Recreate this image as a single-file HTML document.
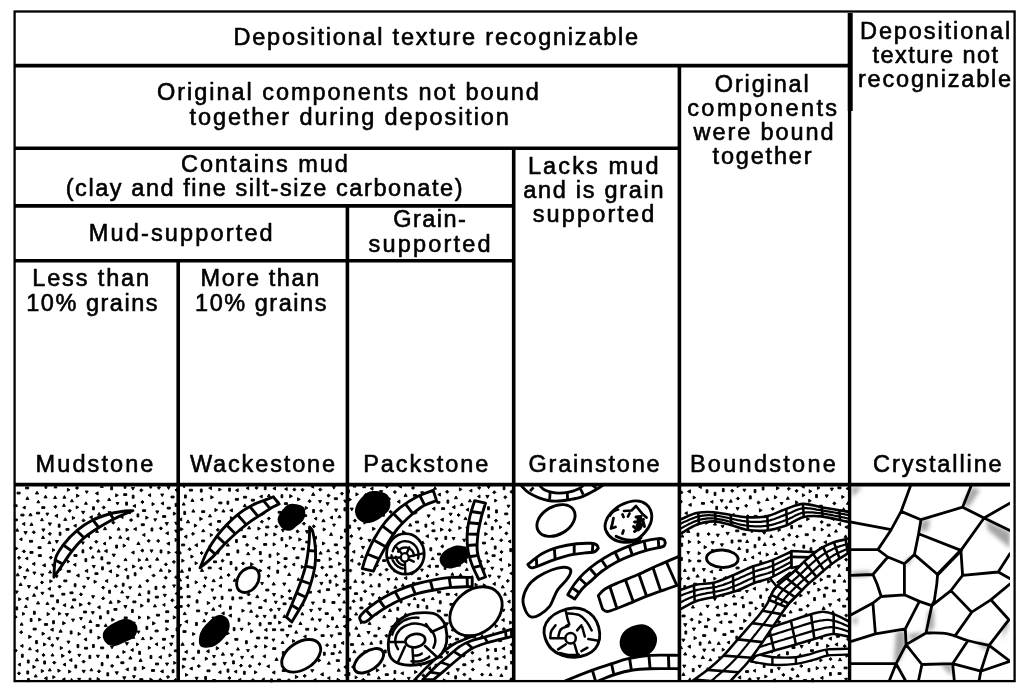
<!DOCTYPE html>
<html><head><meta charset="utf-8"><title>Dunham classification</title>
<style>
html,body{margin:0;padding:0;background:#fff;}
body{width:1024px;height:696px;overflow:hidden;}
svg{display:block;will-change:transform;}
svg text{font-family:"Liberation Sans",sans-serif;font-size:23.5px;fill:#000;stroke:#000;stroke-width:0.6px;stroke-linejoin:round;}
.g line,.g rect{stroke:#000;}
</style></head><body>
<svg width="1024" height="696" viewBox="0 0 1024 696">
<rect width="1024" height="696" fill="#fff"/>
<g id="panels">
<path d="M35.5 650.8L38.0 649.4L38.0 652.3ZM36.9 658.1L38.5 660.9L35.3 660.9ZM27.36 659.97h1.8v3.1h-1.8ZM43.5 653.45l1.6 1.6l-1.6 1.6l-1.6 -1.6ZM52.5 653.5L54.0 656.0L51.0 656.0ZM35.6 666.9L32.9 668.4L32.9 665.3ZM26.85 670.94h1.8v3.1h-1.8ZM46.2 644.4L43.5 646.0L43.5 642.9ZM43.70 660.96h1.8v3.1h-1.8ZM44.9 633.7L42.1 635.3L42.1 632.1ZM52.4 643.72l1.6 1.6l-1.6 1.6l-1.6 -1.6ZM17.9 664.6L20.4 663.1L20.4 666.1ZM35.61 640.58h1.8v3.1h-1.8ZM21.42 654.22h1.8v3.1h-1.8ZM54.3 661.01l1.6 1.6l-1.6 1.6l-1.6 -1.6ZM47.3 638.4L50.1 636.7L50.1 640.0ZM44.0 671.0L41.3 672.6L41.3 669.5ZM64.4 655.8L61.6 657.4L61.6 654.2ZM49.8 668.4L51.3 670.9L48.3 670.9ZM20.3 645.9L23.0 644.4L23.0 647.4ZM35.7 674.4L37.2 677.0L34.2 677.0ZM31.6 636.8L28.7 638.4L28.7 635.2ZM60.6 670.7L57.9 672.2L57.9 669.1ZM62.9 664.6L65.5 663.1L65.5 666.1ZM44.3 678.3L47.1 676.7L47.1 679.9ZM15.7 648.98l1.6 1.6l-1.6 1.6l-1.6 -1.6ZM62.3 679.3L65.0 677.8L65.0 680.8ZM29.9 647.3L31.4 649.8L28.5 649.8ZM19.0 671.76l1.6 1.6l-1.6 1.6l-1.6 -1.6ZM57.6 640.3L56.1 637.7L59.1 637.7ZM33.11 628.17h3.1v1.8h-3.1ZM50.4 629.7L53.2 628.1L53.2 631.3ZM60.6 629.5L62.2 632.2L59.0 632.2ZM44.48 623.56h3.1v1.8h-3.1ZM69.5 650.24l1.6 1.6l-1.6 1.6l-1.6 -1.6ZM41.3 619.6L38.7 621.1L38.7 618.1ZM27.54 678.54h1.8v3.1h-1.8ZM30.22 618.49h1.8v3.1h-1.8ZM52.62 620.67h1.8v3.1h-1.8ZM71.2 671.6L68.6 673.1L68.6 670.1ZM21.2 630.61l1.6 1.6l-1.6 1.6l-1.6 -1.6ZM62.9 648.0L60.3 649.5L60.3 646.5ZM61.1 613.7L58.5 615.2L58.5 612.2ZM55.3 677.1L52.8 678.6L52.8 675.7ZM69.1 660.1L71.9 658.5L71.9 661.7ZM21.6 622.6L23.1 625.2L20.1 625.2ZM71.6 678.4L73.2 681.3L70.0 681.3ZM68.5 643.8L66.9 641.1L70.0 641.1ZM33.45 611.21h1.8v3.1h-1.8ZM49.9 614.1L47.1 615.7L47.1 612.5ZM25.9 604.9L27.3 607.4L24.4 607.4ZM25.0 613.8L22.5 615.3L22.5 612.4ZM21.2 599.2L18.7 600.7L18.7 597.8ZM15.88 606.88h1.8v3.1h-1.8ZM79.2 681.0L77.6 678.3L80.7 678.3ZM47.4 601.9L48.9 604.5L45.9 604.5ZM79.3 656.9L77.8 654.3L80.8 654.3ZM65.6 623.2L62.7 624.8L62.7 621.5ZM73.0 621.7L71.5 619.0L74.6 619.0ZM56.67 599.72h1.8v3.1h-1.8ZM15.6 615.39l1.6 1.6l-1.6 1.6l-1.6 -1.6ZM70.24 630.91h1.8v3.1h-1.8ZM81.0 620.2L79.5 617.6L82.4 617.6ZM66.9 616.4L65.3 613.6L68.6 613.6ZM53.4 607.03l1.6 1.6l-1.6 1.6l-1.6 -1.6ZM61.79 593.31h3.1v1.8h-3.1ZM83.45 611.11h3.1v1.8h-3.1ZM62.9 605.2L65.6 603.6L65.6 606.7ZM38.1 601.3L39.6 604.0L36.5 604.0ZM72.61 598.93h3.1v1.8h-3.1ZM74.90 664.98h1.8v3.1h-1.8ZM72.2 605.4L73.7 608.1L70.6 608.1ZM92.8 614.3L91.3 611.7L94.3 611.7ZM34.1 593.5L35.7 596.3L32.5 596.3ZM42.4 594.9L40.9 592.3L43.9 592.3ZM59.6 585.01l1.6 1.6l-1.6 1.6l-1.6 -1.6ZM97.4 607.3L100.1 605.7L100.1 608.9ZM47.8 588.8L50.4 587.2L50.4 590.3ZM89.13 678.23h1.8v3.1h-1.8ZM77.03 644.51h1.8v3.1h-1.8ZM28.9 588.3L27.4 585.6L30.5 585.6ZM83.7 673.1L82.1 670.3L85.3 670.3ZM50.39 595.01h3.1v1.8h-3.1ZM84.47 647.31h3.1v1.8h-3.1ZM83.6 659.99l1.6 1.6l-1.6 1.6l-1.6 -1.6ZM42.0 580.85l1.6 1.6l-1.6 1.6l-1.6 -1.6ZM91.4 668.3L92.8 670.8L89.9 670.8ZM69.93 591.91h3.1v1.8h-3.1ZM99.9 679.2L97.1 680.8L97.1 677.6ZM82.4 604.7L79.6 606.3L79.6 603.1ZM99.53 615.84h1.8v3.1h-1.8ZM106.86 672.78h1.8v3.1h-1.8ZM63.80 579.97h3.1v1.8h-3.1ZM80.7 633.9L78.1 635.4L78.1 632.4ZM90.4 619.8L92.0 622.5L88.9 622.5ZM88.94 655.34h1.8v3.1h-1.8ZM107.05 610.69h1.8v3.1h-1.8ZM116.8 674.6L115.2 671.8L118.4 671.8ZM82.2 627.1L84.9 625.6L84.9 628.7ZM81.0 592.77l1.6 1.6l-1.6 1.6l-1.6 -1.6ZM92.49 644.45h1.8v3.1h-1.8ZM113.91 608.51h3.1v1.8h-3.1ZM99.0 669.76l1.6 1.6l-1.6 1.6l-1.6 -1.6ZM100.58 646.99h3.1v1.8h-3.1ZM97.9 657.9L96.3 655.2L99.4 655.2ZM42.2 576.8L40.6 574.0L43.8 574.0ZM89.2 601.89l1.6 1.6l-1.6 1.6l-1.6 -1.6ZM34.4 574.7L32.8 572.0L35.9 572.0ZM110.6 600.5L112.2 603.3L109.0 603.3ZM52.4 581.2L49.8 582.7L49.8 579.8ZM112.1 664.33l1.6 1.6l-1.6 1.6l-1.6 -1.6ZM74.22 583.71h1.8v3.1h-1.8ZM76.3 575.5L79.1 573.9L79.1 577.1ZM124.3 679.6L122.7 676.8L125.9 676.8ZM108.70 590.16h1.8v3.1h-1.8ZM56.7 574.48l1.6 1.6l-1.6 1.6l-1.6 -1.6ZM83.9 639.4L86.6 637.9L86.6 640.9ZM125.4 608.4L123.8 605.6L127.0 605.6ZM27.4 568.3L29.0 571.1L25.8 571.1ZM103.2 596.79l1.6 1.6l-1.6 1.6l-1.6 -1.6ZM100.6 637.6L97.9 639.2L97.9 636.1ZM112.0 648.8L110.4 646.0L113.6 646.0ZM101.21 662.59h1.8v3.1h-1.8ZM93.1 598.4L91.6 595.7L94.6 595.7ZM50.1 570.4L51.6 573.0L48.6 573.0ZM106.0 631.5L107.5 634.2L104.4 634.2ZM89.90 629.76h1.8v3.1h-1.8ZM96.11 624.60h3.1v1.8h-3.1ZM25.4 598.7L28.1 597.2L28.1 600.3ZM120.82 661.86h3.1v1.8h-3.1ZM114.5 619.8L111.7 621.3L111.7 618.2ZM106.69 654.98h1.8v3.1h-1.8ZM84.9 570.9L87.7 569.3L87.7 572.5ZM34.6 587.8L37.3 586.3L37.3 589.4ZM42.4 565.3L45.3 563.7L45.3 566.9ZM103.2 586.01l1.6 1.6l-1.6 1.6l-1.6 -1.6ZM38.32 554.68h3.1v1.8h-3.1ZM130.4 656.2L132.0 659.0L128.8 659.0ZM50.8 555.98l1.6 1.6l-1.6 1.6l-1.6 -1.6ZM32.1 563.9L34.9 562.3L34.9 565.4ZM24.9 579.2L23.4 576.5L26.4 576.5ZM55.0 550.0L52.5 551.5L52.5 548.6ZM132.83 600.96h3.1v1.8h-3.1ZM117.7 655.1L119.2 657.7L116.2 657.7ZM117.1 637.1L118.6 639.8L115.5 639.8ZM53.3 567.0L51.7 564.2L54.9 564.2ZM143.4 605.7L140.7 607.2L140.7 604.1ZM131.47 609.40h1.8v3.1h-1.8ZM125.7 669.4L128.3 667.9L128.3 670.9ZM84.1 588.6L82.6 586.0L85.5 586.0ZM38.00 546.76h3.1v1.8h-3.1ZM105.7 623.8L107.2 626.5L104.2 626.5ZM16.7 593.6L15.2 591.0L18.2 591.0ZM120.6 601.6L117.8 603.2L117.8 600.1ZM127.6 599.1L126.0 596.4L129.2 596.4ZM130.6 650.0L133.2 648.5L133.2 651.5ZM62.1 553.31l1.6 1.6l-1.6 1.6l-1.6 -1.6ZM69.8 561.5L67.3 563.0L67.3 560.1ZM122.1 590.5L123.6 593.0L120.7 593.0ZM124.14 616.94h3.1v1.8h-3.1ZM96.8 581.8L94.1 583.3L94.1 580.2ZM115.8 584.64l1.6 1.6l-1.6 1.6l-1.6 -1.6ZM21.9 567.4L19.1 569.0L19.1 565.7ZM134.0 678.3L132.5 675.7L135.5 675.7ZM134.15 667.13h1.8v3.1h-1.8ZM130.2 589.3L128.7 586.8L131.6 586.8ZM139.6 592.8L141.1 595.4L138.1 595.4ZM114.48 626.67h1.8v3.1h-1.8ZM67.17 570.43h3.1v1.8h-3.1ZM147.40 598.92h1.8v3.1h-1.8ZM73.94 554.62h3.1v1.8h-3.1ZM60.3 567.63l1.6 1.6l-1.6 1.6l-1.6 -1.6ZM25.3 558.5L27.8 557.1L27.8 559.9ZM84.94 558.58h1.8v3.1h-1.8ZM122.32 583.14h1.8v3.1h-1.8ZM29.93 551.52h3.1v1.8h-3.1ZM124.9 634.25l1.6 1.6l-1.6 1.6l-1.6 -1.6ZM145.2 667.9L142.3 669.5L142.3 666.3ZM133.7 625.1L132.1 622.3L135.3 622.3ZM20.6 582.8L22.2 585.5L19.0 585.5ZM92.8 555.5L94.3 558.1L91.4 558.1ZM82.01 549.78h1.8v3.1h-1.8ZM49.4 540.8L51.0 543.6L47.8 543.6ZM141.0 617.5L138.5 619.0L138.5 616.0ZM29.51 540.37h3.1v1.8h-3.1ZM139.77 678.67h3.1v1.8h-3.1ZM94.90 572.75h3.1v1.8h-3.1ZM147.93 590.83h1.8v3.1h-1.8ZM93.8 568.2L92.2 565.5L95.3 565.5ZM140.6 658.6L142.2 661.4L139.0 661.4ZM125.5 652.0L122.9 653.5L122.9 650.5ZM151.46 669.58h3.1v1.8h-3.1ZM126.96 575.61h1.8v3.1h-1.8ZM105.0 580.9L107.7 579.4L107.7 582.5ZM73.2 564.7L75.9 563.2L75.9 566.3ZM43.0 535.8L44.6 538.5L41.5 538.5ZM23.9 549.85l1.6 1.6l-1.6 1.6l-1.6 -1.6ZM73.5 544.06l1.6 1.6l-1.6 1.6l-1.6 -1.6ZM64.7 546.1L62.0 547.7L62.0 544.6ZM138.5 633.6L137.0 631.0L140.0 631.0ZM145.97 626.32h1.8v3.1h-1.8ZM43.4 531.7L41.8 528.9L45.0 528.9ZM139.9 584.6L141.4 587.3L138.4 587.3ZM49.9 532.26l1.6 1.6l-1.6 1.6l-1.6 -1.6ZM152.6 679.6L149.9 681.1L149.9 678.1ZM119.2 575.5L116.6 577.0L116.6 574.0ZM122.24 625.80h3.1v1.8h-3.1ZM155.03 586.33h1.8v3.1h-1.8ZM59.17 532.19h1.8v3.1h-1.8ZM82.9 544.4L81.4 541.9L84.3 541.9ZM19.4 539.3L22.0 537.8L22.0 540.8ZM160.3 678.21l1.6 1.6l-1.6 1.6l-1.6 -1.6ZM33.8 530.65l1.6 1.6l-1.6 1.6l-1.6 -1.6ZM90.8 546.37l1.6 1.6l-1.6 1.6l-1.6 -1.6ZM155.07 630.03h3.1v1.8h-3.1ZM133.4 635.8L134.8 638.3L131.9 638.3ZM134.20 572.71h1.8v3.1h-1.8ZM155.48 663.06h3.1v1.8h-3.1ZM147.4 579.17l1.6 1.6l-1.6 1.6l-1.6 -1.6ZM17.2 528.6L18.7 531.2L15.7 531.2ZM168.6 629.2L165.9 630.7L165.9 627.6ZM58.25 524.12h1.8v3.1h-1.8ZM19.0 556.23l1.6 1.6l-1.6 1.6l-1.6 -1.6ZM142.9 637.0L144.4 639.6L141.4 639.6ZM68.17 537.17h1.8v3.1h-1.8ZM17.7 573.0L19.3 575.8L16.1 575.8ZM65.3 517.7L66.8 520.4L63.7 520.4ZM31.5 522.7L33.0 525.4L29.9 525.4ZM158.7 657.2L161.4 655.6L161.4 658.7ZM98.7 549.4L100.2 552.1L97.1 552.1ZM139.0 644.3L136.5 645.8L136.5 642.9ZM150.04 655.45h1.8v3.1h-1.8ZM103.0 543.6L105.5 542.1L105.5 545.0ZM124.3 569.6L126.9 568.1L126.9 571.1ZM138.69 651.29h1.8v3.1h-1.8ZM126.9 645.3L125.3 642.5L128.5 642.5ZM76.7 534.41l1.6 1.6l-1.6 1.6l-1.6 -1.6ZM96.3 540.12l1.6 1.6l-1.6 1.6l-1.6 -1.6ZM101.60 566.77h1.8v3.1h-1.8ZM18.1 548.5L15.2 550.1L15.2 546.9ZM150.9 647.8L148.3 649.3L148.3 646.3ZM65.94 528.47h3.1v1.8h-3.1ZM56.8 543.3L55.3 540.5L58.4 540.5ZM86.6 536.1L89.4 534.5L89.4 537.8ZM155.31 596.19h3.1v1.8h-3.1ZM155.0 644.2L157.5 642.8L157.5 645.7ZM150.2 617.7L147.5 619.3L147.5 616.1ZM154.9 604.3L156.4 606.9L153.4 606.9ZM156.45 614.26h3.1v1.8h-3.1ZM54.8 515.8L57.6 514.2L57.6 517.5ZM155.4 623.3L152.6 625.0L152.6 621.7ZM73.6 525.7L76.2 524.2L76.2 527.2ZM161.9 647.9L164.5 646.4L164.5 649.3ZM162.38 638.35h3.1v1.8h-3.1ZM108.8 571.3L111.5 569.8L111.5 572.9ZM88.6 525.9L91.4 524.3L91.4 527.5ZM112.0 537.7L109.4 539.2L109.4 536.3ZM160.4 671.4L163.2 669.8L163.2 673.0ZM49.9 525.7L48.2 522.9L51.5 522.9ZM171.7 655.3L169.0 656.9L169.0 653.8ZM168.0 675.39l1.6 1.6l-1.6 1.6l-1.6 -1.6ZM153.6 573.90l1.6 1.6l-1.6 1.6l-1.6 -1.6ZM30.5 513.0L32.1 515.8L28.9 515.8ZM100.92 556.80h1.8v3.1h-1.8ZM171.2 645.9L169.6 643.1L172.8 643.1ZM163.9 585.30l1.6 1.6l-1.6 1.6l-1.6 -1.6ZM97.0 529.9L98.5 532.4L95.6 532.4ZM81.6 528.2L83.1 530.8L80.1 530.8ZM172.6 638.2L171.1 635.5L174.2 635.5ZM107.07 562.15h3.1v1.8h-3.1ZM167.0 665.7L165.5 663.0L168.6 663.0ZM118.4 564.90l1.6 1.6l-1.6 1.6l-1.6 -1.6ZM113.8 557.0L112.1 554.1L115.4 554.1ZM104.3 551.0L107.2 549.4L107.2 552.6ZM125.5 558.0L127.0 560.6L124.0 560.6ZM135.4 566.5L132.6 568.1L132.6 564.9ZM172.16 669.63h1.8v3.1h-1.8ZM25.6 534.4L23.9 531.6L27.2 531.6ZM176.3 662.9L173.7 664.3L173.7 661.4ZM175.6 678.39l1.6 1.6l-1.6 1.6l-1.6 -1.6ZM176.07 627.85h1.8v3.1h-1.8ZM165.69 610.85h3.1v1.8h-3.1ZM22.1 523.9L24.8 522.4L24.8 525.5ZM14.32 518.99h3.1v1.8h-3.1ZM165.38 620.34h3.1v1.8h-3.1ZM115.70 545.02h1.8v3.1h-1.8ZM131.3 552.5L134.1 551.0L134.1 554.1ZM42.0 518.1L43.4 520.7L40.5 520.7ZM141.1 566.48l1.6 1.6l-1.6 1.6l-1.6 -1.6ZM152.8 638.2L150.3 639.7L150.3 636.8ZM148.2 566.5L150.8 565.0L150.8 568.0ZM162.5 604.8L165.0 603.4L165.0 606.3ZM20.89 514.14h3.1v1.8h-3.1ZM47.3 515.7L45.9 513.1L48.8 513.1ZM105.0 526.9L106.6 529.7L103.5 529.7ZM174.1 587.5L172.6 584.9L175.6 584.9ZM165.7 576.08l1.6 1.6l-1.6 1.6l-1.6 -1.6ZM174.37 649.91h3.1v1.8h-3.1ZM164.8 597.1L163.2 594.3L166.4 594.3ZM22.7 507.6L25.2 506.1L25.2 509.0ZM146.9 557.7L148.3 560.3L145.4 560.3ZM172.3 598.72l1.6 1.6l-1.6 1.6l-1.6 -1.6ZM176.1 575.60l1.6 1.6l-1.6 1.6l-1.6 -1.6ZM171.2 571.1L168.7 572.6L168.7 569.6ZM69.7 509.20l1.6 1.6l-1.6 1.6l-1.6 -1.6ZM157.2 557.4L158.8 560.2L155.6 560.2ZM125.9 545.7L123.2 547.2L123.2 544.1ZM176.1 617.4L173.3 619.0L173.3 615.8ZM160.12 549.88h1.8v3.1h-1.8ZM83.5 518.88l1.6 1.6l-1.6 1.6l-1.6 -1.6ZM120.2 535.6L121.8 538.3L118.7 538.3ZM166.7 543.6L169.5 542.0L169.5 545.2ZM98.98 521.05h3.1v1.8h-3.1ZM151.5 552.6L150.0 549.9L153.1 549.9ZM89.5 517.2L92.3 515.7L92.3 518.8ZM165.6 533.3L168.3 531.7L168.3 534.8ZM41.77 506.71h3.1v1.8h-3.1ZM174.2 607.3L177.1 605.6L177.1 608.9ZM176.3 532.9L174.7 530.1L177.9 530.1ZM88.1 580.0L86.6 577.4L89.6 577.4ZM140.9 560.1L138.4 561.6L138.4 558.6ZM148.7 539.26l1.6 1.6l-1.6 1.6l-1.6 -1.6ZM142.4 548.94l1.6 1.6l-1.6 1.6l-1.6 -1.6ZM142.3 534.9L144.9 533.4L144.9 536.4ZM75.0 517.9L72.4 519.4L72.4 516.4ZM174.9 593.6L177.7 592.0L177.7 595.3ZM55.4 505.15l1.6 1.6l-1.6 1.6l-1.6 -1.6ZM27.4 496.7L28.9 499.4L25.9 499.4ZM55.1 495.9L56.6 498.5L53.6 498.5ZM36.51 512.21h3.1v1.8h-3.1ZM126.1 538.7L128.9 537.1L128.9 540.3ZM63.9 503.8L65.4 506.4L62.5 506.4ZM14.06 504.84h3.1v1.8h-3.1ZM170.5 552.5L167.9 554.0L167.9 551.1ZM64.4 495.6L65.9 498.2L62.9 498.2ZM138.4 541.8L140.0 544.5L136.8 544.5ZM55.5 485.3L57.0 487.9L54.0 487.9ZM166.8 525.4L165.2 522.6L168.4 522.6ZM151.04 527.97h1.8v3.1h-1.8ZM71.9 499.2L73.4 501.8L70.4 501.8ZM92.59 506.75h1.8v3.1h-1.8ZM160.9 568.5L162.5 571.2L159.3 571.2ZM177.9 539.9L175.1 541.4L175.1 538.3ZM118.6 527.3L120.1 530.1L117.0 530.1ZM83.2 514.1L81.5 511.3L84.8 511.3ZM70.0 489.8L67.4 491.3L67.4 488.3ZM128.8 529.8L126.0 531.4L126.0 528.2ZM38.3 500.3L39.8 502.8L36.9 502.8ZM99.1 512.4L100.7 515.2L97.5 515.2ZM45.00 485.16h1.8v3.1h-1.8ZM165.9 562.79l1.6 1.6l-1.6 1.6l-1.6 -1.6ZM37.0 491.2L38.6 494.0L35.4 494.0ZM77.0 486.32l1.6 1.6l-1.6 1.6l-1.6 -1.6ZM17.03 492.16h3.1v1.8h-3.1ZM113.3 521.00l1.6 1.6l-1.6 1.6l-1.6 -1.6ZM109.6 514.4L108.0 511.7L111.1 511.7ZM131.1 518.46l1.6 1.6l-1.6 1.6l-1.6 -1.6ZM25.58 487.07h3.1v1.8h-3.1ZM45.5 495.2L47.1 497.9L44.0 497.9ZM173.9 560.31l1.6 1.6l-1.6 1.6l-1.6 -1.6ZM103.7 505.87l1.6 1.6l-1.6 1.6l-1.6 -1.6ZM158.2 539.34l1.6 1.6l-1.6 1.6l-1.6 -1.6ZM174.8 552.4L177.5 550.9L177.5 553.9ZM176.2 524.9L174.7 522.2L177.8 522.2ZM85.9 501.8L87.4 504.3L84.5 504.3ZM160.9 526.76l1.6 1.6l-1.6 1.6l-1.6 -1.6ZM120.3 516.9L123.0 515.4L123.0 518.5ZM78.8 507.3L76.2 508.8L76.2 505.9ZM137.00 513.89h1.8v3.1h-1.8ZM97.9 499.42l1.6 1.6l-1.6 1.6l-1.6 -1.6ZM128.76 510.57h1.8v3.1h-1.8ZM176.1 513.6L173.4 515.2L173.4 512.1ZM109.2 497.9L110.7 500.5L107.7 500.5ZM133.6 529.1L136.3 527.5L136.3 530.6ZM141.24 523.84h3.1v1.8h-3.1ZM79.3 495.8L76.6 497.3L76.6 494.2ZM155.2 521.3L153.8 518.8L156.7 518.8ZM86.7 493.5L85.3 491.0L88.2 491.0ZM95.3 493.4L98.1 491.8L98.1 495.0ZM125.66 502.09h1.8v3.1h-1.8ZM167.23 507.20h3.1v1.8h-3.1ZM123.66 493.71h3.1v1.8h-3.1ZM118.3 495.3L115.7 496.9L115.7 493.8ZM132.9 490.1L131.4 487.5L134.5 487.5ZM175.12 503.41h1.8v3.1h-1.8ZM124.13 485.20h1.8v3.1h-1.8ZM110.74 486.71h1.8v3.1h-1.8ZM132.26 495.19h1.8v3.1h-1.8ZM101.8 484.9L103.3 487.4L100.4 487.4ZM117.5 505.0L116.1 502.5L118.9 502.5ZM132.8 505.9L135.5 504.4L135.5 507.5ZM162.62 515.62h3.1v1.8h-3.1ZM170.99 496.11h3.1v1.8h-3.1ZM157.3 513.6L155.8 510.9L158.8 510.9ZM142.4 500.44l1.6 1.6l-1.6 1.6l-1.6 -1.6ZM162.2 496.6L160.7 494.0L163.7 494.0ZM168.6 489.4L167.0 486.7L170.1 486.7ZM141.3 488.69l1.6 1.6l-1.6 1.6l-1.6 -1.6ZM148.0 495.2L150.6 493.7L150.6 496.7ZM160.9 503.4L163.5 501.9L163.5 504.9ZM142.55 509.71h3.1v1.8h-3.1ZM148.4 517.7L145.8 519.2L145.8 516.2ZM154.6 504.1L152.0 505.7L152.0 502.6ZM149.84 484.95h1.8v3.1h-1.8ZM158.9 486.14l1.6 1.6l-1.6 1.6l-1.6 -1.6ZM176.6 488.35l1.6 1.6l-1.6 1.6l-1.6 -1.6Z" fill="#000" stroke="#000" stroke-width="0.95" stroke-linejoin="round"/>
<path d="M338.7 668.6L340.2 671.2L337.2 671.2ZM344.3 675.1L346.9 673.6L346.9 676.6ZM336.27 659.73h3.1v1.8h-3.1ZM339.8 679.8L337.1 681.4L337.1 678.3ZM340.0 650.4L341.5 653.1L338.4 653.1ZM327.3 678.1L329.9 676.6L329.9 679.6ZM345.4 665.42l1.6 1.6l-1.6 1.6l-1.6 -1.6ZM328.9 661.6L330.4 664.2L327.4 664.2ZM320.4 674.4L323.3 672.7L323.3 676.0ZM323.44 652.17h1.8v3.1h-1.8ZM320.9 660.4L318.2 662.0L318.2 658.8ZM331.06 652.75h3.1v1.8h-3.1ZM327.1 643.60l1.6 1.6l-1.6 1.6l-1.6 -1.6ZM312.3 672.3L310.7 669.7L313.8 669.7ZM316.8 652.2L315.3 649.7L318.3 649.7ZM305.8 651.5L308.4 649.9L308.4 653.0ZM313.2 680.2L316.1 678.6L316.1 681.9ZM341.0 643.0L343.7 641.4L343.7 644.6ZM333.88 644.56h1.8v3.1h-1.8ZM309.4 658.1L310.8 660.6L307.9 660.6ZM321.05 634.72h3.1v1.8h-3.1ZM312.7 642.53l1.6 1.6l-1.6 1.6l-1.6 -1.6ZM331.5 637.6L330.0 634.9L333.1 634.9ZM329.7 626.3L327.1 627.8L327.1 624.8ZM317.4 629.4L314.6 631.0L314.6 627.7ZM338.20 632.86h3.1v1.8h-3.1ZM304.7 674.31l1.6 1.6l-1.6 1.6l-1.6 -1.6ZM300.4 653.3L297.8 654.8L297.8 651.9ZM343.0 626.3L345.9 624.7L345.9 628.0ZM299.7 647.7L298.2 645.0L301.2 645.0ZM331.60 616.92h1.8v3.1h-1.8ZM299.9 661.1L301.4 663.6L298.5 663.6ZM344.3 614.9L345.8 617.5L342.8 617.5ZM290.21 668.18h3.1v1.8h-3.1ZM298.2 676.9L295.4 678.6L295.4 675.3ZM336.9 624.9L338.5 627.6L335.3 627.6ZM288.9 678.64l1.6 1.6l-1.6 1.6l-1.6 -1.6ZM319.8 621.8L318.3 619.0L321.4 619.0ZM295.1 641.0L292.5 642.4L292.5 639.5ZM283.5 663.0L286.2 661.5L286.2 664.6ZM292.2 647.4L293.8 650.2L290.6 650.2ZM305.71 628.34h3.1v1.8h-3.1ZM303.4 636.5L306.1 635.0L306.1 638.0ZM289.91 656.24h1.8v3.1h-1.8ZM282.30 651.62h1.8v3.1h-1.8ZM282.6 640.9L284.1 643.5L281.1 643.5ZM287.4 637.3L285.8 634.5L289.0 634.5ZM272.70 647.68h3.1v1.8h-3.1ZM319.8 611.0L318.1 608.2L321.4 608.2ZM276.5 657.6L278.1 660.4L274.9 660.4ZM280.71 628.99h3.1v1.8h-3.1ZM339.9 611.6L338.3 608.9L341.4 608.9ZM281.4 622.6L278.7 624.1L278.7 621.0ZM273.4 641.5L272.0 639.0L274.9 639.0ZM325.16 612.69h3.1v1.8h-3.1ZM312.4 617.3L313.9 620.0L310.8 620.0ZM288.49 625.23h3.1v1.8h-3.1ZM296.2 630.5L297.7 633.2L294.7 633.2ZM323.20 599.40h1.8v3.1h-1.8ZM300.4 621.8L302.0 624.5L298.9 624.5ZM272.50 628.82h3.1v1.8h-3.1ZM266.7 666.3L269.3 664.8L269.3 667.8ZM277.50 679.09h3.1v1.8h-3.1ZM262.8 656.3L265.4 654.8L265.4 657.8ZM282.21 669.76h3.1v1.8h-3.1ZM264.56 636.99h3.1v1.8h-3.1ZM267.4 646.5L264.6 648.1L264.6 644.8ZM272.0 672.5L274.9 670.9L274.9 674.1ZM284.4 614.7L286.0 617.5L282.8 617.5ZM270.61 678.89h1.8v3.1h-1.8ZM256.64 637.08h3.1v1.8h-3.1ZM312.9 604.6L311.4 602.0L314.5 602.0ZM317.3 591.4L320.2 589.8L320.2 593.1ZM311.1 612.1L309.6 609.4L312.6 609.4ZM331.90 601.59h3.1v1.8h-3.1ZM308.39 591.32h3.1v1.8h-3.1ZM326.46 588.77h3.1v1.8h-3.1ZM302.3 612.3L303.8 614.9L300.9 614.9ZM253.2 631.3L250.5 632.9L250.5 629.7ZM293.5 618.1L292.0 615.5L295.0 615.5ZM321.4 585.2L319.8 582.4L323.0 582.4ZM261.8 679.4L264.3 677.9L264.3 680.8ZM294.4 606.8L291.5 608.4L291.5 605.1ZM338.9 596.7L337.3 594.0L340.4 594.0ZM255.8 644.96l1.6 1.6l-1.6 1.6l-1.6 -1.6ZM344.1 600.5L345.6 603.0L342.7 603.0ZM309.3 580.8L310.8 583.4L307.8 583.4ZM257.2 672.3L254.5 673.8L254.5 670.8ZM279.0 610.9L277.5 608.3L280.4 608.3ZM271.0 608.31l1.6 1.6l-1.6 1.6l-1.6 -1.6ZM326.5 573.43l1.6 1.6l-1.6 1.6l-1.6 -1.6ZM317.9 575.9L315.2 577.4L315.2 574.3ZM300.9 604.3L303.7 602.7L303.7 606.0ZM307.54 573.11h1.8v3.1h-1.8ZM264.3 629.9L267.0 628.3L267.0 631.5ZM300.01 585.72h3.1v1.8h-3.1ZM288.93 597.46h3.1v1.8h-3.1ZM263.4 600.7L266.2 599.1L266.2 602.3ZM315.6 568.3L312.9 569.9L312.9 566.8ZM268.25 622.42h3.1v1.8h-3.1ZM298.4 577.8L299.9 580.3L297.0 580.3ZM322.3 565.95l1.6 1.6l-1.6 1.6l-1.6 -1.6ZM304.0 566.9L301.3 568.4L301.3 565.3ZM316.87 559.52h3.1v1.8h-3.1ZM295.93 556.88h3.1v1.8h-3.1ZM299.7 597.5L297.1 599.0L297.1 596.1ZM329.16 565.88h3.1v1.8h-3.1ZM259.5 662.41l1.6 1.6l-1.6 1.6l-1.6 -1.6ZM331.9 559.1L329.2 560.6L329.2 557.6ZM307.1 562.7L305.6 560.1L308.5 560.1ZM289.5 589.29l1.6 1.6l-1.6 1.6l-1.6 -1.6ZM245.49 640.67h1.8v3.1h-1.8ZM283.9 596.7L281.1 598.3L281.1 595.1ZM250.0 664.47l1.6 1.6l-1.6 1.6l-1.6 -1.6ZM257.3 594.9L258.9 597.7L255.7 597.7ZM248.6 592.88l1.6 1.6l-1.6 1.6l-1.6 -1.6ZM311.9 555.5L310.4 552.9L313.4 552.9ZM289.2 572.8L290.7 575.5L287.6 575.5ZM284.3 585.8L282.7 583.0L285.9 583.0ZM250.7 656.8L253.2 655.3L253.2 658.3ZM292.1 564.5L294.7 563.0L294.7 566.0ZM329.23 580.04h1.8v3.1h-1.8ZM259.22 622.67h1.8v3.1h-1.8ZM335.5 552.8L338.2 551.2L338.2 554.3ZM285.3 565.10l1.6 1.6l-1.6 1.6l-1.6 -1.6ZM242.1 659.1L240.6 656.4L243.6 656.4ZM273.7 582.2L275.3 585.0L272.1 585.0ZM301.23 548.12h3.1v1.8h-3.1ZM284.00 557.69h3.1v1.8h-3.1ZM274.00 615.15h1.8v3.1h-1.8ZM254.5 584.73l1.6 1.6l-1.6 1.6l-1.6 -1.6ZM338.6 585.0L335.9 586.6L335.9 583.5ZM258.81 606.71h3.1v1.8h-3.1ZM280.2 562.6L277.5 564.1L277.5 561.0ZM267.1 567.8L269.9 566.2L269.9 569.4ZM276.81 570.06h1.8v3.1h-1.8ZM250.8 623.7L248.2 625.3L248.2 622.2ZM274.0 596.3L272.4 593.5L275.6 593.5ZM275.8 603.9L274.3 601.2L277.3 601.2ZM257.0 614.60l1.6 1.6l-1.6 1.6l-1.6 -1.6ZM247.90 602.29h3.1v1.8h-3.1ZM234.79 638.45h3.1v1.8h-3.1ZM341.4 563.8L338.6 565.4L338.6 562.3ZM305.78 541.18h3.1v1.8h-3.1ZM248.0 652.1L246.5 649.6L249.4 649.6ZM307.0 533.5L305.4 530.6L308.6 530.6ZM237.9 647.5L239.4 650.1L236.5 650.1ZM345.7 554.6L347.2 557.2L344.2 557.2ZM335.7 574.60l1.6 1.6l-1.6 1.6l-1.6 -1.6ZM239.12 597.05h3.1v1.8h-3.1ZM301.6 539.5L298.8 541.1L298.8 537.9ZM243.46 671.23h1.8v3.1h-1.8ZM293.9 550.1L292.4 547.5L295.4 547.5ZM264.7 618.1L263.1 615.4L266.2 615.4ZM226.9 641.67l1.6 1.6l-1.6 1.6l-1.6 -1.6ZM231.9 656.5L230.3 653.8L233.4 653.8ZM262.0 570.7L259.2 572.3L259.2 569.1ZM282.97 602.92h3.1v1.8h-3.1ZM222.9 652.4L224.5 655.2L221.3 655.2ZM265.76 589.13h3.1v1.8h-3.1ZM251.1 609.7L252.6 612.3L249.6 612.3ZM269.05 554.21h1.8v3.1h-1.8ZM268.5 574.40l1.6 1.6l-1.6 1.6l-1.6 -1.6ZM244.6 610.7L241.9 612.2L241.9 609.2ZM241.6 630.8L240.1 628.3L243.1 628.3ZM259.42 551.54h1.8v3.1h-1.8ZM313.8 524.75l1.6 1.6l-1.6 1.6l-1.6 -1.6ZM288.1 545.7L285.5 547.2L285.5 544.2ZM342.82 588.30h3.1v1.8h-3.1ZM320.6 551.3L322.2 554.1L319.0 554.1ZM314.2 518.6L316.7 517.2L316.7 520.1ZM328.3 549.0L329.8 551.7L326.7 551.7ZM252.9 678.62l1.6 1.6l-1.6 1.6l-1.6 -1.6ZM297.5 529.83l1.6 1.6l-1.6 1.6l-1.6 -1.6ZM238.08 618.27h1.8v3.1h-1.8ZM229.5 633.4L226.7 635.0L226.7 631.8ZM232.61 660.82h1.8v3.1h-1.8ZM233.22 627.57h1.8v3.1h-1.8ZM261.0 562.9L259.5 560.2L262.6 560.2ZM226.0 624.3L224.5 621.7L227.5 621.7ZM238.7 591.7L237.2 589.1L240.2 589.1ZM280.98 537.60h1.8v3.1h-1.8ZM303.9 522.06l1.6 1.6l-1.6 1.6l-1.6 -1.6ZM217.46 624.95h3.1v1.8h-3.1ZM224.7 665.2L223.1 662.4L226.4 662.4ZM292.1 537.7L289.3 539.3L289.3 536.1ZM282.9 532.1L281.4 529.4L284.4 529.4ZM303.55 514.75h3.1v1.8h-3.1ZM294.7 517.4L297.3 515.9L297.3 518.9ZM217.0 636.1L215.4 633.4L218.6 633.4ZM334.30 543.91h3.1v1.8h-3.1ZM227.07 669.04h1.8v3.1h-1.8ZM228.6 615.6L231.4 614.0L231.4 617.2ZM238.2 679.9L240.8 678.4L240.8 681.3ZM221.5 613.3L224.2 611.8L224.2 614.9ZM262.1 585.0L260.6 582.5L263.5 582.5ZM345.5 570.3L342.8 571.9L342.8 568.8ZM346.6 580.9L343.9 582.5L343.9 579.3ZM229.4 676.44l1.6 1.6l-1.6 1.6l-1.6 -1.6ZM253.6 579.5L252.0 576.8L255.2 576.8ZM325.9 529.4L323.2 531.0L323.2 527.9ZM275.8 544.3L273.1 545.9L273.1 542.8ZM279.6 554.0L277.1 555.5L277.1 552.6ZM253.4 564.3L250.6 565.9L250.6 562.7ZM234.1 671.6L236.7 670.2L236.7 673.1ZM323.5 518.9L325.1 521.7L321.8 521.7ZM243.25 580.09h1.8v3.1h-1.8ZM228.42 589.22h3.1v1.8h-3.1ZM231.85 596.87h1.8v3.1h-1.8ZM209.59 624.80h1.8v3.1h-1.8ZM218.3 672.3L221.0 670.7L221.0 673.8ZM219.1 648.2L216.3 649.9L216.3 646.6ZM204.2 619.1L205.7 621.8L202.7 621.8ZM244.15 571.15h1.8v3.1h-1.8ZM213.4 619.9L211.8 617.1L215.0 617.1ZM202.54 633.59h3.1v1.8h-3.1ZM195.2 634.0L192.6 635.5L192.6 632.6ZM212.70 663.27h3.1v1.8h-3.1ZM325.2 543.4L322.5 545.0L322.5 541.9ZM343.1 537.5L340.5 539.0L340.5 536.0ZM234.7 578.6L236.3 581.3L233.2 581.3ZM206.3 651.3L209.1 649.7L209.1 652.9ZM314.0 537.6L316.5 536.2L316.5 539.1ZM206.94 669.91h3.1v1.8h-3.1ZM191.2 644.0L193.8 642.5L193.8 645.5ZM213.3 607.6L214.8 610.3L211.7 610.3ZM184.6 651.9L187.3 650.3L187.3 653.4ZM255.7 548.6L252.9 550.2L252.9 547.0ZM221.21 596.26h1.8v3.1h-1.8ZM214.1 682.1L212.6 679.5L215.5 679.5ZM204.5 644.8L201.8 646.4L201.8 643.3ZM241.0 664.00l1.6 1.6l-1.6 1.6l-1.6 -1.6ZM315.2 543.7L316.8 546.5L313.5 546.5ZM344.9 549.6L343.4 547.1L346.4 547.1ZM197.63 650.21h1.8v3.1h-1.8ZM195.55 622.45h1.8v3.1h-1.8ZM208.0 658.7L205.3 660.3L205.3 657.1ZM235.25 567.07h1.8v3.1h-1.8ZM321.1 509.23l1.6 1.6l-1.6 1.6l-1.6 -1.6ZM218.8 585.9L221.5 584.3L221.5 587.4ZM329.8 517.5L332.5 515.9L332.5 519.1ZM210.6 640.7L209.2 638.2L212.1 638.2ZM228.6 573.46l1.6 1.6l-1.6 1.6l-1.6 -1.6ZM229.51 606.19h1.8v3.1h-1.8ZM243.1 561.85l1.6 1.6l-1.6 1.6l-1.6 -1.6ZM230.10 561.54h1.8v3.1h-1.8ZM331.1 532.6L332.6 535.4L329.5 535.4ZM182.6 642.5L184.2 645.3L180.9 645.3ZM184.7 621.6L187.6 620.0L187.6 623.2ZM182.96 630.65h3.1v1.8h-3.1ZM320.0 503.1L318.6 500.5L321.5 500.5ZM214.0 658.1L212.5 655.5L215.5 655.5ZM327.6 505.4L326.0 502.7L329.2 502.7ZM334.0 526.6L332.6 524.1L335.5 524.1ZM206.2 615.3L204.7 612.7L207.7 612.7ZM204.73 676.39h1.8v3.1h-1.8ZM263.60 543.55h3.1v1.8h-3.1ZM312.65 509.46h1.8v3.1h-1.8ZM218.3 605.9L220.9 604.4L220.9 607.4ZM248.2 552.0L249.8 554.7L246.6 554.7ZM309.6 499.61l1.6 1.6l-1.6 1.6l-1.6 -1.6ZM328.5 493.94l1.6 1.6l-1.6 1.6l-1.6 -1.6ZM247.1 543.31l1.6 1.6l-1.6 1.6l-1.6 -1.6ZM196.52 609.97h3.1v1.8h-3.1ZM210.1 603.0L207.3 604.6L207.3 601.5ZM198.8 664.51l1.6 1.6l-1.6 1.6l-1.6 -1.6ZM236.94 549.88h1.8v3.1h-1.8ZM334.34 497.82h3.1v1.8h-3.1ZM320.3 487.99l1.6 1.6l-1.6 1.6l-1.6 -1.6ZM242.78 535.67h3.1v1.8h-3.1ZM287.8 512.3L290.7 510.7L290.7 514.0ZM196.17 599.86h1.8v3.1h-1.8ZM218.7 568.4L221.4 566.9L221.4 570.0ZM226.37 553.45h3.1v1.8h-3.1ZM336.1 511.8L334.6 509.0L337.7 509.0ZM196.7 680.0L195.1 677.3L198.2 677.3ZM188.1 674.9L185.5 676.3L185.5 673.4ZM341.9 491.98l1.6 1.6l-1.6 1.6l-1.6 -1.6ZM189.6 668.6L192.3 667.0L192.3 670.1ZM208.13 567.04h3.1v1.8h-3.1ZM255.1 538.0L257.8 536.6L257.8 539.5ZM289.4 526.9L287.8 524.2L291.0 524.2ZM191.5 658.4L194.2 656.9L194.2 659.9ZM339.5 515.0L341.1 517.8L337.9 517.8ZM185.2 666.7L182.4 668.3L182.4 665.1ZM260.6 528.6L257.9 530.2L257.9 527.1ZM261.9 520.15l1.6 1.6l-1.6 1.6l-1.6 -1.6ZM268.1 534.7L265.4 536.2L265.4 533.1ZM214.4 599.9L212.8 597.1L216.0 597.1ZM283.6 517.50l1.6 1.6l-1.6 1.6l-1.6 -1.6ZM310.9 486.6L313.6 485.1L313.6 488.2ZM221.0 575.8L222.4 578.3L219.5 578.3ZM240.38 527.62h1.8v3.1h-1.8ZM276.3 524.96l1.6 1.6l-1.6 1.6l-1.6 -1.6ZM302.5 488.17l1.6 1.6l-1.6 1.6l-1.6 -1.6ZM184.7 611.9L186.3 614.6L183.2 614.6ZM182.72 658.29h3.1v1.8h-3.1ZM307.9 507.9L305.3 509.5L305.3 506.4ZM345.3 502.9L343.7 500.1L346.9 500.1ZM188.4 603.97l1.6 1.6l-1.6 1.6l-1.6 -1.6ZM344.42 529.02h1.8v3.1h-1.8ZM343.96 507.76h1.8v3.1h-1.8ZM333.9 489.1L332.4 486.5L335.4 486.5ZM249.1 526.1L250.7 528.9L247.5 528.9ZM213.49 560.92h3.1v1.8h-3.1ZM212.3 591.6L210.9 589.0L213.8 589.0ZM268.8 516.89l1.6 1.6l-1.6 1.6l-1.6 -1.6ZM231.6 532.2L233.2 535.0L230.1 535.0ZM295.46 506.52h1.8v3.1h-1.8ZM276.6 534.4L273.8 536.0L273.8 532.8ZM265.77 526.14h3.1v1.8h-3.1ZM235.58 539.52h1.8v3.1h-1.8ZM300.3 499.3L297.6 500.8L297.6 497.7ZM179.09 605.57h3.1v1.8h-3.1ZM187.07 595.82h3.1v1.8h-3.1ZM284.42 502.73h3.1v1.8h-3.1ZM294.4 487.93l1.6 1.6l-1.6 1.6l-1.6 -1.6ZM248.00 516.07h1.8v3.1h-1.8ZM264.9 513.6L262.3 515.1L262.3 512.1ZM284.6 489.0L287.2 487.5L287.2 490.5ZM213.7 578.9L215.3 581.7L212.0 581.7ZM251.5 511.4L250.0 508.7L253.1 508.7ZM292.5 496.2L289.7 497.8L289.7 494.6ZM199.6 590.58l1.6 1.6l-1.6 1.6l-1.6 -1.6ZM217.9 554.3L216.4 551.6L219.4 551.6ZM203.7 560.6L206.5 559.0L206.5 562.2ZM179.9 627.3L178.3 624.5L181.5 624.5ZM227.8 543.4L229.4 546.1L226.2 546.1ZM204.5 584.48l1.6 1.6l-1.6 1.6l-1.6 -1.6ZM202.0 568.6L203.6 571.4L200.4 571.4ZM205.6 579.6L204.1 577.0L207.0 577.0ZM281.01 494.68h1.8v3.1h-1.8ZM186.98 584.40h1.8v3.1h-1.8ZM212.5 554.5L209.7 556.1L209.7 553.0ZM219.9 536.56l1.6 1.6l-1.6 1.6l-1.6 -1.6ZM313.2 492.5L314.8 495.4L311.6 495.4ZM235.1 523.14l1.6 1.6l-1.6 1.6l-1.6 -1.6ZM278.13 511.40h3.1v1.8h-3.1ZM275.74 501.33h3.1v1.8h-3.1ZM212.9 535.0L210.3 536.6L210.3 533.5ZM226.6 523.3L228.2 526.1L225.0 526.1ZM197.9 582.3L195.2 583.8L195.2 580.8ZM180.7 586.70l1.6 1.6l-1.6 1.6l-1.6 -1.6ZM185.5 577.3L188.3 575.7L188.3 578.9ZM222.5 559.11l1.6 1.6l-1.6 1.6l-1.6 -1.6ZM267.1 506.3L264.5 507.8L264.5 504.9ZM268.9 494.0L270.5 496.8L267.3 496.8ZM179.40 596.24h3.1v1.8h-3.1ZM244.8 503.9L246.4 506.7L243.2 506.7ZM240.8 512.9L242.4 515.5L239.3 515.5ZM251.34 499.28h3.1v1.8h-3.1ZM233.0 518.1L230.4 519.6L230.4 516.6ZM201.6 551.43l1.6 1.6l-1.6 1.6l-1.6 -1.6ZM235.35 498.43h3.1v1.8h-3.1ZM197.7 563.2L195.1 564.7L195.1 561.7ZM181.9 569.5L183.5 572.3L180.2 572.3ZM184.4 560.7L181.8 562.2L181.8 559.2ZM223.4 509.4L225.0 512.0L221.9 512.0ZM210.2 544.59l1.6 1.6l-1.6 1.6l-1.6 -1.6ZM229.7 510.4L232.4 508.8L232.4 511.9ZM194.7 545.2L197.4 543.6L197.4 546.8ZM188.62 567.92h1.8v3.1h-1.8ZM243.46 496.30h3.1v1.8h-3.1ZM217.57 520.52h3.1v1.8h-3.1ZM210.0 514.2L211.5 516.9L208.4 516.9ZM217.8 528.27l1.6 1.6l-1.6 1.6l-1.6 -1.6ZM208.7 524.4L211.3 522.9L211.3 525.9ZM226.97 501.14h1.8v3.1h-1.8ZM259.6 496.5L262.2 495.0L262.2 498.0ZM264.32 486.66h1.8v3.1h-1.8ZM179.9 551.32l1.6 1.6l-1.6 1.6l-1.6 -1.6ZM246.0 488.2L248.7 486.6L248.7 489.7ZM217.7 510.0L214.9 511.6L214.9 508.4ZM256.5 486.19l1.6 1.6l-1.6 1.6l-1.6 -1.6ZM235.4 490.3L238.2 488.7L238.2 491.8ZM202.6 518.9L199.8 520.5L199.8 517.3ZM180.1 578.3L181.6 581.0L178.5 581.0ZM201.50 540.04h3.1v1.8h-3.1ZM272.8 488.5L275.5 486.9L275.5 490.0ZM203.3 529.1L204.8 531.7L201.7 531.7ZM197.1 525.6L194.4 527.2L194.4 524.0ZM228.63 488.10h1.8v3.1h-1.8ZM193.3 509.4L194.9 512.1L191.8 512.1ZM218.82 502.02h3.1v1.8h-3.1ZM221.4 489.6L218.8 491.0L218.8 488.1ZM181.58 544.04h3.1v1.8h-3.1ZM193.6 556.6L190.9 558.1L190.9 555.0ZM213.6 497.3L210.8 498.9L210.8 495.7ZM200.1 499.6L202.7 498.1L202.7 501.0ZM184.1 536.6L186.9 535.0L186.9 538.3ZM208.7 488.1L211.5 486.5L211.5 489.7ZM200.36 489.02h1.8v3.1h-1.8ZM201.64 510.75h3.1v1.8h-3.1ZM189.6 547.65l1.6 1.6l-1.6 1.6l-1.6 -1.6ZM193.0 532.22l1.6 1.6l-1.6 1.6l-1.6 -1.6ZM192.4 498.7L194.0 501.4L190.9 501.4ZM184.49 494.95h1.8v3.1h-1.8ZM183.80 511.38h1.8v3.1h-1.8ZM188.0 519.9L189.6 522.8L186.3 522.8ZM179.1 519.4L181.7 517.9L181.7 520.9ZM189.37 489.27h3.1v1.8h-3.1ZM183.7 502.5L185.2 505.1L182.2 505.1ZM184.1 487.9L182.5 485.2L185.6 485.2ZM183.3 529.2L180.6 530.7L180.6 527.7Z" fill="#000" stroke="#000" stroke-width="0.95" stroke-linejoin="round"/>
<path d="M387.5 590.25l1.6 1.6l-1.6 1.6l-1.6 -1.6ZM395.4 585.5L397.0 588.2L393.8 588.2ZM378.30 583.79h1.8v3.1h-1.8ZM393.1 595.5L395.8 594.0L395.8 597.1ZM385.69 600.26h1.8v3.1h-1.8ZM388.5 581.2L387.0 578.6L390.0 578.6ZM379.88 605.08h1.8v3.1h-1.8ZM390.0 608.7L391.6 611.5L388.4 611.5ZM379.5 596.51l1.6 1.6l-1.6 1.6l-1.6 -1.6ZM396.88 607.24h1.8v3.1h-1.8ZM380.3 573.02l1.6 1.6l-1.6 1.6l-1.6 -1.6ZM395.2 569.2L396.7 571.8L393.7 571.8ZM377.0 563.74l1.6 1.6l-1.6 1.6l-1.6 -1.6ZM396.3 577.2L397.8 579.9L394.7 579.9ZM386.6 568.02l1.6 1.6l-1.6 1.6l-1.6 -1.6ZM372.3 574.6L369.8 576.1L369.8 573.2ZM372.8 596.3L371.3 593.7L374.3 593.7ZM402.9 583.6L404.4 586.2L401.4 586.2ZM399.5 619.2L396.7 620.8L396.7 617.6ZM404.0 578.1L406.8 576.5L406.8 579.7ZM400.18 599.86h1.8v3.1h-1.8ZM402.6 567.2L405.4 565.6L405.4 568.8ZM412.51 582.32h1.8v3.1h-1.8ZM404.6 591.2L406.1 593.9L403.1 593.9ZM414.2 573.4L411.4 575.1L411.4 571.8ZM409.0 606.3L407.6 603.8L410.5 603.8ZM414.2 564.3L411.3 565.9L411.3 562.6ZM418.6 590.3L420.2 593.1L417.0 593.1ZM421.6 600.0L424.4 598.4L424.4 601.6ZM405.6 612.9L407.1 615.4L404.2 615.4ZM371.0 584.4L372.5 586.9L369.6 586.9ZM417.62 577.78h3.1v1.8h-3.1ZM370.0 602.38l1.6 1.6l-1.6 1.6l-1.6 -1.6ZM421.9 571.6L420.5 569.1L423.4 569.1ZM384.2 615.0L385.8 617.7L382.7 617.7ZM427.5 574.32l1.6 1.6l-1.6 1.6l-1.6 -1.6ZM421.97 583.85h1.8v3.1h-1.8ZM369.1 564.8L370.6 567.5L367.5 567.5ZM372.8 559.1L370.2 560.6L370.2 557.5ZM429.1 589.3L431.7 587.8L431.7 590.7ZM382.63 559.72h3.1v1.8h-3.1ZM376.78 554.58h3.1v1.8h-3.1ZM427.5 566.3L430.3 564.7L430.3 567.9ZM420.8 559.5L422.3 562.2L419.3 562.2ZM409.6 621.9L407.0 623.4L407.0 620.5ZM389.31 551.56h1.8v3.1h-1.8ZM413.5 614.3L415.0 616.9L412.1 616.9ZM365.1 589.70l1.6 1.6l-1.6 1.6l-1.6 -1.6ZM404.3 559.1L406.9 557.7L406.9 560.6ZM417.08 604.57h1.8v3.1h-1.8ZM438.6 574.5L436.0 575.9L436.0 573.0ZM444.18 566.34h1.8v3.1h-1.8ZM360.28 597.71h1.8v3.1h-1.8ZM389.9 542.1L391.5 544.8L388.4 544.8ZM434.7 583.8L437.3 582.3L437.3 585.3ZM451.6 565.1L450.0 562.3L453.2 562.3ZM452.4 572.6L453.9 575.2L450.9 575.2ZM411.6 553.5L410.2 551.0L413.1 551.0ZM362.9 580.59l1.6 1.6l-1.6 1.6l-1.6 -1.6ZM380.6 543.9L382.2 546.6L379.1 546.6ZM414.6 597.0L416.1 599.6L413.2 599.6ZM362.0 554.9L363.5 557.5L360.5 557.5ZM432.7 556.9L434.3 559.6L431.1 559.6ZM421.3 614.7L422.9 617.4L419.7 617.4ZM359.1 562.41l1.6 1.6l-1.6 1.6l-1.6 -1.6ZM437.57 591.25h3.1v1.8h-3.1ZM390.6 626.6L393.2 625.2L393.2 628.1ZM372.4 550.1L370.9 547.4L374.0 547.4ZM400.32 548.74h3.1v1.8h-3.1ZM405.9 540.94l1.6 1.6l-1.6 1.6l-1.6 -1.6ZM412.10 541.56h3.1v1.8h-3.1ZM431.2 620.5L428.6 622.1L428.6 619.0ZM354.48 592.76h3.1v1.8h-3.1ZM369.5 542.2L367.9 539.4L371.1 539.4ZM397.32 557.14h1.8v3.1h-1.8ZM443.70 579.35h1.8v3.1h-1.8ZM435.44 565.37h3.1v1.8h-3.1ZM405.5 532.3L402.6 533.9L402.6 530.6ZM421.8 552.8L420.3 550.2L423.3 550.2ZM361.1 536.74l1.6 1.6l-1.6 1.6l-1.6 -1.6ZM350.0 560.5L352.8 558.9L352.8 562.1ZM359.1 530.5L357.5 527.8L360.7 527.8ZM364.7 573.6L362.0 575.1L362.0 572.1ZM386.5 634.03l1.6 1.6l-1.6 1.6l-1.6 -1.6ZM432.7 597.0L434.2 599.6L431.2 599.6ZM411.3 533.45l1.6 1.6l-1.6 1.6l-1.6 -1.6ZM363.0 549.2L361.4 546.4L364.6 546.4ZM439.38 600.76h1.8v3.1h-1.8ZM352.2 551.8L354.8 550.3L354.8 553.3ZM426.00 605.66h1.8v3.1h-1.8ZM437.51 553.20h3.1v1.8h-3.1ZM355.3 579.6L356.8 582.3L353.7 582.3ZM429.91 547.76h1.8v3.1h-1.8ZM350.4 568.92l1.6 1.6l-1.6 1.6l-1.6 -1.6ZM375.47 611.67h1.8v3.1h-1.8ZM410.2 523.3L411.8 526.1L408.6 526.1ZM397.1 635.0L399.6 633.6L399.6 636.4ZM446.21 593.37h3.1v1.8h-3.1ZM449.91 603.41h3.1v1.8h-3.1ZM400.25 626.18h3.1v1.8h-3.1ZM354.9 519.05l1.6 1.6l-1.6 1.6l-1.6 -1.6ZM454.27 580.58h1.8v3.1h-1.8ZM458.2 557.3L456.7 554.7L459.6 554.7ZM417.1 625.7L414.4 627.3L414.4 624.1ZM394.2 643.8L391.6 645.3L391.6 642.3ZM464.0 561.6L466.8 560.0L466.8 563.3ZM407.48 631.61h3.1v1.8h-3.1ZM353.7 599.66l1.6 1.6l-1.6 1.6l-1.6 -1.6ZM437.31 610.05h3.1v1.8h-3.1ZM422.8 541.1L424.3 543.6L421.4 543.6ZM401.95 642.70h1.8v3.1h-1.8ZM466.8 567.9L468.2 570.4L465.3 570.4ZM423.7 624.79l1.6 1.6l-1.6 1.6l-1.6 -1.6ZM376.29 535.69h1.8v3.1h-1.8ZM416.26 529.98h3.1v1.8h-3.1ZM442.4 544.83l1.6 1.6l-1.6 1.6l-1.6 -1.6ZM386.0 538.4L384.3 535.5L387.6 535.5ZM469.8 577.2L472.5 575.7L472.5 578.8ZM396.0 541.5L398.8 539.9L398.8 543.1ZM425.7 536.2L428.4 534.6L428.4 537.7ZM446.3 558.2L444.8 555.6L447.8 555.6ZM463.93 546.94h1.8v3.1h-1.8ZM431.0 628.05l1.6 1.6l-1.6 1.6l-1.6 -1.6ZM450.6 549.0L453.2 547.5L453.2 550.5ZM438.03 621.23h1.8v3.1h-1.8ZM380.9 528.4L383.5 526.9L383.5 529.9ZM375.4 528.8L372.6 530.5L372.6 527.2ZM380.01 640.79h1.8v3.1h-1.8ZM348.3 587.7L351.0 586.2L351.0 589.2ZM359.89 607.00h3.1v1.8h-3.1ZM454.4 594.6L457.0 593.1L457.0 596.1ZM476.8 567.8L474.0 569.4L474.0 566.1ZM460.85 604.68h1.8v3.1h-1.8ZM425.5 634.0L422.7 635.6L422.7 632.4ZM460.6 573.4L462.2 576.2L459.0 576.2ZM457.27 564.35h3.1v1.8h-3.1ZM394.3 531.31l1.6 1.6l-1.6 1.6l-1.6 -1.6ZM364.67 613.54h3.1v1.8h-3.1ZM369.6 621.8L371.1 624.4L368.2 624.4ZM414.8 642.7L413.3 640.1L416.3 640.1ZM356.1 612.4L357.6 615.0L354.6 615.0ZM408.25 647.93h3.1v1.8h-3.1ZM424.98 524.08h1.8v3.1h-1.8ZM440.6 630.7L443.2 629.2L443.2 632.1ZM474.4 552.9L471.6 554.5L471.6 551.2ZM395.1 649.1L396.7 651.8L393.6 651.8ZM366.7 522.5L363.9 524.1L363.9 520.9ZM464.09 593.50h3.1v1.8h-3.1ZM380.7 628.4L378.2 629.9L378.2 626.9ZM363.0 622.4L360.4 623.9L360.4 620.9ZM431.2 523.1L433.9 521.6L433.9 524.7ZM373.84 634.97h3.1v1.8h-3.1ZM373.20 517.32h3.1v1.8h-3.1ZM360.4 513.8L357.6 515.5L357.6 512.2ZM387.56 521.52h3.1v1.8h-3.1ZM436.4 540.6L434.9 538.0L437.9 538.0ZM424.6 643.7L422.0 645.2L422.0 642.2ZM467.6 583.1L464.8 584.8L464.8 581.5ZM406.3 515.27l1.6 1.6l-1.6 1.6l-1.6 -1.6ZM475.8 544.3L474.3 541.7L477.3 541.7ZM391.8 656.39l1.6 1.6l-1.6 1.6l-1.6 -1.6ZM397.0 518.9L395.5 516.2L398.6 516.2ZM453.6 540.2L452.1 537.5L455.1 537.5ZM384.40 649.98h1.8v3.1h-1.8ZM351.4 534.60l1.6 1.6l-1.6 1.6l-1.6 -1.6ZM447.0 625.5L445.5 622.8L448.6 622.8ZM351.8 510.8L350.2 508.1L353.3 508.1ZM371.3 641.7L372.8 644.3L369.8 644.3ZM415.51 521.14h3.1v1.8h-3.1ZM359.9 505.4L358.4 502.7L361.5 502.7ZM348.4 608.1L351.0 606.6L351.0 609.6ZM482.42 542.13h3.1v1.8h-3.1ZM440.5 519.7L443.3 518.1L443.3 521.4ZM444.86 536.30h1.8v3.1h-1.8ZM420.5 650.3L417.8 651.8L417.8 648.7ZM349.2 542.05l1.6 1.6l-1.6 1.6l-1.6 -1.6ZM478.83 575.52h3.1v1.8h-3.1ZM471.4 534.7L472.9 537.4L469.8 537.4ZM368.1 512.1L369.6 514.8L366.6 514.8ZM417.3 512.8L414.6 514.3L414.6 511.2ZM386.1 665.7L383.6 667.2L383.6 664.3ZM487.6 534.0L484.8 535.6L484.8 532.5ZM379.2 670.3L376.4 671.9L376.4 668.6ZM444.36 614.19h3.1v1.8h-3.1ZM439.7 637.54l1.6 1.6l-1.6 1.6l-1.6 -1.6ZM464.2 541.9L462.6 539.2L465.8 539.2ZM351.5 499.6L348.7 501.2L348.7 498.0ZM433.9 638.2L431.1 639.8L431.1 636.6ZM382.59 513.15h1.8v3.1h-1.8ZM368.5 634.2L366.9 631.5L370.1 631.5ZM472.6 607.4L470.9 604.5L474.2 604.5ZM483.9 570.9L482.3 568.2L485.4 568.2ZM428.6 517.7L427.1 514.9L430.2 514.9ZM375.7 649.6L378.3 648.2L378.3 651.1ZM348.81 525.17h1.8v3.1h-1.8ZM443.4 529.6L440.5 531.2L440.5 528.0ZM367.6 504.1L370.2 502.6L370.2 505.6ZM362.7 642.2L364.2 644.8L361.2 644.8ZM419.1 503.8L420.6 506.5L417.5 506.5ZM365.2 653.6L363.6 650.8L366.8 650.8ZM449.8 528.54l1.6 1.6l-1.6 1.6l-1.6 -1.6ZM457.1 621.7L454.4 623.2L454.4 620.1ZM451.4 520.02l1.6 1.6l-1.6 1.6l-1.6 -1.6ZM358.6 494.3L355.9 495.9L355.9 492.8ZM430.94 646.05h3.1v1.8h-3.1ZM449.7 638.7L448.2 636.0L451.3 636.0ZM354.4 649.9L356.0 652.7L352.8 652.7ZM347.61 489.82h1.8v3.1h-1.8ZM371.4 659.9L369.8 657.1L373.0 657.1ZM478.6 611.3L480.2 614.2L477.0 614.2ZM486.1 585.4L483.3 587.0L483.3 583.8ZM432.5 657.4L430.9 654.6L434.0 654.6ZM400.0 525.8L397.2 527.3L397.2 524.2ZM492.3 569.7L490.8 567.2L493.8 567.2ZM405.2 507.6L406.7 510.2L403.7 510.2ZM411.6 506.3L410.0 503.6L413.1 503.6ZM405.6 493.6L407.2 496.4L404.0 496.4ZM461.5 527.9L458.8 529.4L458.8 526.4ZM357.2 658.1L360.0 656.4L360.0 659.7ZM450.6 515.9L449.0 513.2L452.2 513.2ZM489.7 577.5L488.2 575.0L491.1 575.0ZM358.8 633.7L360.5 636.5L357.2 636.5ZM448.2 644.9L451.0 643.3L451.0 646.6ZM451.77 629.15h3.1v1.8h-3.1ZM381.8 657.7L379.0 659.3L379.0 656.0ZM350.48 643.63h3.1v1.8h-3.1ZM403.3 652.41l1.6 1.6l-1.6 1.6l-1.6 -1.6ZM390.6 510.20l1.6 1.6l-1.6 1.6l-1.6 -1.6ZM413.38 494.56h3.1v1.8h-3.1ZM348.59 658.18h1.8v3.1h-1.8ZM365.5 493.4L367.1 496.2L363.9 496.2ZM447.3 654.5L445.7 651.7L448.9 651.7ZM467.5 529.9L465.9 527.2L469.0 527.2ZM402.68 662.14h1.8v3.1h-1.8ZM381.1 501.6L378.4 503.2L378.4 500.0ZM385.25 673.72h3.1v1.8h-3.1ZM394.02 670.48h1.8v3.1h-1.8ZM432.2 508.7L434.9 507.1L434.9 510.3ZM350.0 618.09l1.6 1.6l-1.6 1.6l-1.6 -1.6ZM482.1 561.2L479.6 562.6L479.6 559.8ZM354.6 484.4L356.1 487.1L353.0 487.1ZM412.90 657.49h3.1v1.8h-3.1ZM418.5 665.0L421.2 663.5L421.2 666.6ZM417.3 672.0L414.6 673.5L414.6 670.5ZM373.2 498.3L371.7 495.6L374.8 495.6ZM356.3 626.6L357.9 629.2L354.8 629.2ZM465.5 516.9L467.1 519.6L463.9 519.6ZM348.16 632.80h1.8v3.1h-1.8ZM400.7 673.3L403.3 671.8L403.3 674.8ZM492.7 583.9L495.3 582.3L495.3 585.4ZM477.6 584.8L475.0 586.3L475.0 583.2ZM387.01 498.06h3.1v1.8h-3.1ZM397.0 501.7L399.9 500.0L399.9 503.3ZM394.5 677.9L396.0 680.6L392.9 680.6ZM408.8 680.0L407.3 677.4L410.2 677.4ZM486.4 551.2L488.0 554.0L484.9 554.0ZM454.9 661.8L452.1 663.4L452.1 660.2ZM423.4 673.91l1.6 1.6l-1.6 1.6l-1.6 -1.6ZM475.92 526.72h3.1v1.8h-3.1ZM482.7 603.9L481.2 601.3L484.2 601.3ZM465.7 613.5L468.3 612.0L468.3 615.1ZM366.5 662.21l1.6 1.6l-1.6 1.6l-1.6 -1.6ZM431.95 529.89h3.1v1.8h-3.1ZM492.04 554.77h3.1v1.8h-3.1ZM442.9 665.1L445.4 663.7L445.4 666.6ZM440.90 645.58h1.8v3.1h-1.8ZM377.4 509.7L374.6 511.3L374.6 508.1ZM478.8 591.26l1.6 1.6l-1.6 1.6l-1.6 -1.6ZM457.2 614.3L455.7 611.7L458.6 611.7ZM489.9 561.3L487.1 563.0L487.1 559.7ZM370.2 488.6L373.0 486.9L373.0 490.2ZM457.8 671.5L456.2 668.7L459.4 668.7ZM455.46 638.29h3.1v1.8h-3.1ZM435.06 664.21h3.1v1.8h-3.1ZM351.96 666.01h3.1v1.8h-3.1ZM494.31 546.01h1.8v3.1h-1.8ZM492.2 537.0L493.7 539.6L490.8 539.6ZM422.5 657.8L425.1 656.4L425.1 659.3ZM488.66 591.26h1.8v3.1h-1.8ZM416.3 678.2L417.8 680.9L414.7 680.9ZM480.5 621.6L477.9 623.0L477.9 620.1ZM491.32 526.71h1.8v3.1h-1.8ZM381.1 493.4L379.5 490.6L382.7 490.6ZM394.9 490.51l1.6 1.6l-1.6 1.6l-1.6 -1.6ZM441.52 507.78h3.1v1.8h-3.1ZM422.2 494.6L420.6 491.8L423.8 491.8ZM357.7 677.4L355.1 678.8L355.1 675.9ZM427.8 668.4L430.6 666.7L430.6 670.0ZM398.6 486.5L401.4 484.9L401.4 488.1ZM454.76 675.82h1.8v3.1h-1.8ZM360.75 668.41h1.8v3.1h-1.8ZM499.0 578.6L497.5 576.0L500.5 576.0ZM458.6 513.43l1.6 1.6l-1.6 1.6l-1.6 -1.6ZM485.9 610.6L488.6 609.1L488.6 612.1ZM368.6 672.4L370.2 675.1L367.1 675.1ZM455.8 654.9L454.2 652.2L457.3 652.2ZM452.2 507.2L455.0 505.5L455.0 508.8ZM498.9 559.6L501.5 558.1L501.5 561.2ZM485.6 521.6L487.1 524.3L484.0 524.3ZM501.5 550.32l1.6 1.6l-1.6 1.6l-1.6 -1.6ZM436.83 501.45h3.1v1.8h-3.1ZM490.5 604.8L489.0 602.1L492.0 602.1ZM441.4 672.5L438.8 674.0L438.8 671.0ZM378.8 676.3L380.3 678.9L377.4 678.9ZM501.2 538.65l1.6 1.6l-1.6 1.6l-1.6 -1.6ZM475.3 520.9L472.7 522.4L472.7 519.5ZM508.1 541.4L510.7 539.9L510.7 542.9ZM431.8 675.2L433.4 677.8L430.3 677.8ZM413.0 486.29l1.6 1.6l-1.6 1.6l-1.6 -1.6ZM347.0 674.0L349.9 672.4L349.9 675.6ZM509.82 548.57h1.8v3.1h-1.8ZM363.3 678.23l1.6 1.6l-1.6 1.6l-1.6 -1.6ZM429.64 495.31h1.8v3.1h-1.8ZM464.4 672.90l1.6 1.6l-1.6 1.6l-1.6 -1.6ZM496.0 519.09l1.6 1.6l-1.6 1.6l-1.6 -1.6ZM445.9 680.3L443.3 681.8L443.3 678.8ZM461.3 629.32l1.6 1.6l-1.6 1.6l-1.6 -1.6ZM501.7 571.3L500.2 568.8L503.1 568.8ZM437.8 494.6L440.4 493.1L440.4 496.1ZM509.7 573.4L512.5 571.7L512.5 575.0ZM465.9 509.7L468.5 508.2L468.5 511.2ZM470.9 621.6L472.5 624.4L469.3 624.4ZM506.4 531.78l1.6 1.6l-1.6 1.6l-1.6 -1.6ZM502.0 527.2L499.5 528.7L499.5 525.8ZM479.40 512.99h1.8v3.1h-1.8ZM464.7 620.0L462.0 621.6L462.0 618.4ZM446.98 500.04h1.8v3.1h-1.8ZM507.8 579.33l1.6 1.6l-1.6 1.6l-1.6 -1.6ZM511.1 565.1L508.6 566.5L508.6 563.6ZM446.4 673.3L449.0 671.9L449.0 674.8ZM489.0 619.3L490.7 622.2L487.4 622.2ZM472.8 667.91l1.6 1.6l-1.6 1.6l-1.6 -1.6ZM456.0 496.0L457.5 498.7L454.4 498.7ZM464.60 635.92h3.1v1.8h-3.1ZM469.10 643.63h3.1v1.8h-3.1ZM435.0 486.6L436.5 489.2L433.5 489.2ZM506.9 523.0L509.5 521.5L509.5 524.5ZM495.60 509.86h1.8v3.1h-1.8ZM439.17 656.18h3.1v1.8h-3.1ZM482.1 672.94l1.6 1.6l-1.6 1.6l-1.6 -1.6ZM487.80 514.74h1.8v3.1h-1.8ZM502.7 585.2L504.3 587.9L501.2 587.9ZM475.26 628.57h3.1v1.8h-3.1ZM462.78 663.86h3.1v1.8h-3.1ZM486.0 627.02l1.6 1.6l-1.6 1.6l-1.6 -1.6ZM364.2 484.9L365.8 487.7L362.6 487.7ZM487.56 506.78h1.8v3.1h-1.8ZM496.8 617.6L495.3 614.9L498.4 614.9ZM477.4 507.2L474.8 508.7L474.8 505.7ZM482.2 634.4L483.7 637.2L480.6 637.2ZM386.8 484.92l1.6 1.6l-1.6 1.6l-1.6 -1.6ZM505.0 592.6L506.5 595.2L503.6 595.2ZM504.68 512.99h3.1v1.8h-3.1ZM481.1 645.0L478.3 646.7L478.3 643.4ZM472.4 651.16l1.6 1.6l-1.6 1.6l-1.6 -1.6ZM497.9 626.0L495.2 627.6L495.2 624.5ZM463.7 653.95l1.6 1.6l-1.6 1.6l-1.6 -1.6ZM508.5 507.8L507.0 505.2L510.0 505.2ZM499.88 600.87h1.8v3.1h-1.8ZM496.65 591.88h1.8v3.1h-1.8ZM472.3 663.1L470.7 660.3L474.0 660.3ZM503.9 627.51l1.6 1.6l-1.6 1.6l-1.6 -1.6ZM461.8 502.9L463.3 505.6L460.2 505.6ZM447.1 490.19l1.6 1.6l-1.6 1.6l-1.6 -1.6ZM501.5 620.0L504.2 618.5L504.2 621.6ZM508.1 638.3L506.6 635.7L509.6 635.7ZM479.8 657.73l1.6 1.6l-1.6 1.6l-1.6 -1.6ZM469.19 678.19h1.8v3.1h-1.8ZM482.5 501.52l1.6 1.6l-1.6 1.6l-1.6 -1.6ZM489.4 649.8L486.6 651.4L486.6 648.2ZM486.6 665.1L489.3 663.6L489.3 666.6ZM495.5 634.1L492.9 635.6L492.9 632.6ZM505.3 495.64l1.6 1.6l-1.6 1.6l-1.6 -1.6ZM507.3 601.6L510.1 600.0L510.1 603.2ZM494.89 657.88h3.1v1.8h-3.1ZM469.9 499.2L471.4 501.8L468.4 501.8ZM497.2 500.6L494.7 502.1L494.7 499.2ZM510.4 591.3L513.2 589.7L513.2 592.9ZM490.5 672.9L492.1 675.6L489.0 675.6ZM499.9 667.8L497.2 669.3L497.2 666.3ZM498.51 639.78h3.1v1.8h-3.1ZM503.5 612.0L502.0 609.3L505.0 609.3ZM511.8 642.93l1.6 1.6l-1.6 1.6l-1.6 -1.6ZM486.35 640.27h1.8v3.1h-1.8ZM494.0 608.4L496.7 606.8L496.7 610.0ZM511.8 608.13l1.6 1.6l-1.6 1.6l-1.6 -1.6ZM472.54 635.99h3.1v1.8h-3.1ZM487.4 498.3L485.8 495.4L489.1 495.4ZM462.1 489.4L459.4 490.9L459.4 487.8ZM512.6 622.6L509.7 624.2L509.7 621.0ZM501.9 648.5L504.6 647.0L504.6 650.0ZM502.5 657.0L505.1 655.5L505.1 658.5ZM501.4 673.7L502.9 676.4L499.8 676.4ZM494.67 648.45h1.8v3.1h-1.8ZM505.16 666.26h1.8v3.1h-1.8ZM511.0 677.7L512.5 680.4L509.5 680.4ZM494.3 490.74l1.6 1.6l-1.6 1.6l-1.6 -1.6ZM511.5 490.13l1.6 1.6l-1.6 1.6l-1.6 -1.6ZM513.4 662.7L510.7 664.2L510.7 661.1ZM469.4 490.7L471.9 489.2L471.9 492.1ZM477.4 496.4L480.0 494.9L480.0 497.9ZM488.6 488.7L487.1 486.1L490.1 486.1ZM503.13 486.65h1.8v3.1h-1.8ZM479.2 486.26l1.6 1.6l-1.6 1.6l-1.6 -1.6ZM510.34 650.63h1.8v3.1h-1.8ZM487.15 655.71h1.8v3.1h-1.8Z" fill="#000" stroke="#000" stroke-width="0.95" stroke-linejoin="round"/>
<path d="M785.1 632.1L783.5 629.3L786.8 629.3ZM790.6 619.9L792.2 622.7L789.0 622.7ZM780.8 621.8L777.9 623.4L777.9 620.2ZM777.9 636.20l1.6 1.6l-1.6 1.6l-1.6 -1.6ZM770.6 635.2L768.0 636.7L768.0 633.7ZM788.56 638.22h1.8v3.1h-1.8ZM782.50 644.84h1.8v3.1h-1.8ZM782.40 614.77h3.1v1.8h-3.1ZM769.4 617.80l1.6 1.6l-1.6 1.6l-1.6 -1.6ZM774.0 642.9L771.4 644.3L771.4 641.4ZM786.53 651.74h1.8v3.1h-1.8ZM798.9 617.2L800.4 619.9L797.3 619.9ZM791.95 646.64h3.1v1.8h-3.1ZM791.5 631.6L794.2 630.0L794.2 633.1ZM765.6 626.7L762.8 628.3L762.8 625.2ZM801.6 648.3L800.0 645.5L803.2 645.5ZM806.4 613.16l1.6 1.6l-1.6 1.6l-1.6 -1.6ZM775.6 628.11l1.6 1.6l-1.6 1.6l-1.6 -1.6ZM798.8 640.4L797.3 637.8L800.3 637.8ZM757.1 636.0L759.8 634.5L759.8 637.5ZM800.3 653.6L801.8 656.3L798.7 656.3ZM763.59 640.53h1.8v3.1h-1.8ZM753.4 621.8L755.0 624.5L751.9 624.5ZM802.5 628.8L804.1 631.5L801.0 631.5ZM750.8 631.8L748.1 633.3L748.1 630.3ZM775.8 612.96l1.6 1.6l-1.6 1.6l-1.6 -1.6ZM811.8 625.9L809.1 627.5L809.1 624.4ZM761.4 617.7L758.8 619.2L758.8 616.2ZM799.02 608.81h3.1v1.8h-3.1ZM746.6 620.8L743.7 622.4L743.7 619.2ZM777.1 655.5L779.8 654.0L779.8 657.1ZM790.6 610.2L792.1 612.9L789.1 612.9ZM801.3 664.38l1.6 1.6l-1.6 1.6l-1.6 -1.6ZM748.91 612.81h1.8v3.1h-1.8ZM793.5 603.2L796.1 601.7L796.1 604.6ZM783.87 605.19h1.8v3.1h-1.8ZM809.0 644.0L807.4 641.2L810.6 641.2ZM774.8 663.0L772.1 664.5L772.1 661.4ZM797.6 674.1L799.2 676.9L796.0 676.9ZM757.7 608.4L755.1 609.9L755.1 607.0ZM767.1 610.3L769.9 608.6L769.9 611.9ZM775.46 604.55h3.1v1.8h-3.1ZM765.2 659.6L763.6 656.8L766.8 656.8ZM810.45 649.68h3.1v1.8h-3.1ZM811.1 661.9L809.6 659.3L812.6 659.3ZM771.2 598.7L768.4 600.4L768.4 597.1ZM795.7 660.0L793.1 661.5L793.1 658.6ZM792.5 667.82l1.6 1.6l-1.6 1.6l-1.6 -1.6ZM807.8 604.16l1.6 1.6l-1.6 1.6l-1.6 -1.6ZM813.72 630.53h1.8v3.1h-1.8ZM787.4 660.6L784.8 662.1L784.8 659.1ZM803.44 679.59h3.1v1.8h-3.1ZM819.6 622.1L821.1 624.7L818.1 624.7ZM770.73 669.37h1.8v3.1h-1.8ZM779.3 597.6L776.5 599.2L776.5 596.0ZM788.5 597.5L786.9 594.7L790.1 594.7ZM830.5 618.9L827.8 620.4L827.8 617.3ZM816.28 642.51h1.8v3.1h-1.8ZM818.9 668.2L816.2 669.7L816.2 666.6ZM739.62 627.43h3.1v1.8h-3.1ZM775.57 587.20h3.1v1.8h-3.1ZM808.07 668.59h1.8v3.1h-1.8ZM770.5 581.6L767.7 583.2L767.7 580.0ZM771.8 649.99l1.6 1.6l-1.6 1.6l-1.6 -1.6ZM756.3 652.3L759.1 650.7L759.1 653.9ZM753.6 643.8L756.1 642.3L756.1 645.2ZM811.69 678.66h1.8v3.1h-1.8ZM749.2 650.7L747.7 648.0L750.8 648.0ZM815.9 616.7L814.3 614.0L817.5 614.0ZM733.7 615.1L736.4 613.5L736.4 616.7ZM749.20 601.93h3.1v1.8h-3.1ZM742.52 604.65h1.8v3.1h-1.8ZM792.5 678.7L789.7 680.3L789.7 677.1ZM763.26 664.37h1.8v3.1h-1.8ZM778.9 670.1L777.4 667.6L780.3 667.6ZM759.7 579.4L761.2 582.1L758.2 582.1ZM820.3 677.9L823.0 676.3L823.0 679.4ZM749.0 583.0L747.5 580.4L750.5 580.4ZM745.9 642.2L744.4 639.5L747.5 639.5ZM759.76 595.09h1.8v3.1h-1.8ZM752.8 588.7L755.4 587.2L755.4 590.2ZM822.4 660.3L819.9 661.8L819.9 658.8ZM802.4 595.5L799.8 597.0L799.8 594.0ZM783.4 673.25l1.6 1.6l-1.6 1.6l-1.6 -1.6ZM772.5 680.3L775.3 678.7L775.3 681.9ZM730.64 630.48h3.1v1.8h-3.1ZM808.5 594.4L807.0 591.8L810.0 591.8ZM824.49 651.71h1.8v3.1h-1.8ZM768.6 589.6L766.0 591.1L766.0 588.1ZM781.1 582.3L779.5 579.6L782.6 579.6ZM724.18 612.84h3.1v1.8h-3.1ZM789.1 586.9L791.8 585.4L791.8 588.5ZM727.6 605.4L724.8 607.0L724.8 603.8ZM715.6 607.3L718.3 605.8L718.3 608.8ZM823.6 606.6L825.3 609.5L822.0 609.5ZM761.94 603.47h1.8v3.1h-1.8ZM719.2 622.2L721.9 620.7L721.9 623.8ZM767.4 676.5L764.8 678.0L764.8 675.0ZM716.62 614.26h3.1v1.8h-3.1ZM758.3 680.3L756.9 677.7L759.8 677.7ZM797.55 583.65h1.8v3.1h-1.8ZM710.3 619.6L707.6 621.2L707.6 618.0ZM735.85 636.21h1.8v3.1h-1.8ZM754.4 662.4L757.0 660.9L757.0 663.9ZM739.89 646.27h1.8v3.1h-1.8ZM813.65 597.55h1.8v3.1h-1.8ZM825.2 669.6L823.7 667.0L826.7 667.0ZM829.54 672.49h1.8v3.1h-1.8ZM701.4 622.1L698.8 623.6L698.8 620.6ZM754.22 573.34h3.1v1.8h-3.1ZM830.6 657.52l1.6 1.6l-1.6 1.6l-1.6 -1.6ZM838.03 672.65h3.1v1.8h-3.1ZM753.2 565.06l1.6 1.6l-1.6 1.6l-1.6 -1.6ZM733.41 603.12h3.1v1.8h-3.1ZM764.6 570.81l1.6 1.6l-1.6 1.6l-1.6 -1.6ZM826.14 625.24h1.8v3.1h-1.8ZM748.4 573.7L745.7 575.2L745.7 572.1ZM743.86 662.42h3.1v1.8h-3.1ZM714.23 628.03h1.8v3.1h-1.8ZM836.6 652.1L839.4 650.5L839.4 653.7ZM820.6 589.7L817.9 591.3L817.9 588.1ZM726.9 642.4L729.5 641.0L729.5 643.9ZM753.0 670.7L755.5 669.3L755.5 672.2ZM738.4 653.1L740.0 656.0L736.8 656.0ZM749.7 677.69l1.6 1.6l-1.6 1.6l-1.6 -1.6ZM700.7 612.4L702.3 615.1L699.2 615.1ZM840.0 657.9L841.6 660.7L838.5 660.7ZM833.1 665.0L834.6 667.7L831.6 667.7ZM759.89 560.80h1.8v3.1h-1.8ZM834.9 644.4L837.6 642.8L837.6 646.0ZM828.7 638.6L831.4 637.0L831.4 640.2ZM834.2 630.8L832.7 628.1L835.8 628.1ZM728.72 621.10h3.1v1.8h-3.1ZM820.72 636.07h1.8v3.1h-1.8ZM848.7 655.7L845.9 657.2L845.9 654.1ZM745.51 670.66h3.1v1.8h-3.1ZM691.7 617.97l1.6 1.6l-1.6 1.6l-1.6 -1.6ZM704.46 625.78h3.1v1.8h-3.1ZM822.9 579.7L820.2 581.3L820.2 578.2ZM707.6 608.0L706.0 605.3L709.2 605.3ZM740.6 597.6L743.1 596.1L743.1 599.0ZM738.9 581.12l1.6 1.6l-1.6 1.6l-1.6 -1.6ZM714.8 600.7L713.3 598.0L716.4 598.0ZM807.9 583.6L805.3 585.1L805.3 582.0ZM729.4 583.9L731.0 586.5L727.9 586.5ZM844.05 667.04h3.1v1.8h-3.1ZM789.8 574.70l1.6 1.6l-1.6 1.6l-1.6 -1.6ZM722.13 593.48h1.8v3.1h-1.8ZM718.7 641.7L720.3 644.4L717.2 644.4ZM724.8 649.7L722.2 651.2L722.2 648.2ZM736.02 567.07h3.1v1.8h-3.1ZM774.2 571.1L776.9 569.6L776.9 572.6ZM769.5 562.4L771.1 565.2L767.9 565.2ZM815.0 573.5L816.4 576.0L813.5 576.0ZM746.9 593.0L745.4 590.5L748.4 590.5ZM745.0 557.9L746.5 560.5L743.5 560.5ZM844.7 644.49l1.6 1.6l-1.6 1.6l-1.6 -1.6ZM733.8 594.5L735.3 597.0L732.4 597.0ZM836.33 635.41h3.1v1.8h-3.1ZM829.4 645.9L826.6 647.6L826.6 644.3ZM735.0 663.85l1.6 1.6l-1.6 1.6l-1.6 -1.6ZM737.67 589.36h3.1v1.8h-3.1ZM822.9 572.8L821.4 570.2L824.3 570.2ZM841.7 630.7L844.3 629.1L844.3 632.2ZM737.9 677.5L740.7 675.8L740.7 679.1ZM722.87 633.70h3.1v1.8h-3.1ZM757.9 553.2L760.5 551.7L760.5 554.6ZM823.43 594.09h1.8v3.1h-1.8ZM782.2 561.4L779.7 562.8L779.7 559.9ZM692.9 605.3L694.5 608.0L691.4 608.0ZM726.1 662.03l1.6 1.6l-1.6 1.6l-1.6 -1.6ZM830.1 606.6L828.5 603.8L831.8 603.8ZM702.67 634.66h3.1v1.8h-3.1ZM832.9 610.7L834.4 613.4L831.3 613.4ZM846.2 681.0L844.6 678.3L847.7 678.3ZM725.26 670.68h3.1v1.8h-3.1ZM718.91 583.59h3.1v1.8h-3.1ZM713.3 590.4L715.9 588.9L715.9 592.0ZM832.38 589.88h3.1v1.8h-3.1ZM733.1 646.98l1.6 1.6l-1.6 1.6l-1.6 -1.6ZM824.80 587.10h3.1v1.8h-3.1ZM769.0 554.6L766.2 556.2L766.2 553.0ZM707.1 596.8L704.6 598.3L704.6 595.4ZM696.8 638.1L694.0 639.6L694.0 636.5ZM812.57 563.95h1.8v3.1h-1.8ZM804.31 570.85h3.1v1.8h-3.1ZM734.3 578.5L732.7 575.8L735.8 575.8ZM764.7 542.6L766.3 545.5L763.1 545.5ZM833.43 579.88h1.8v3.1h-1.8ZM729.66 654.36h1.8v3.1h-1.8ZM848.1 637.64l1.6 1.6l-1.6 1.6l-1.6 -1.6ZM729.6 563.98l1.6 1.6l-1.6 1.6l-1.6 -1.6ZM693.9 630.8L692.4 628.0L695.5 628.0ZM716.18 667.11h3.1v1.8h-3.1ZM719.9 659.7L718.3 656.9L721.5 656.9ZM709.6 640.6L711.1 643.2L708.0 643.2ZM734.5 558.4L737.1 556.9L737.1 559.9ZM711.6 649.9L714.2 648.4L714.2 651.4ZM704.3 651.9L702.7 649.1L705.9 649.1ZM682.7 602.1L685.5 600.5L685.5 603.7ZM689.0 595.3L687.5 592.7L690.5 592.7ZM751.1 557.4L753.7 555.9L753.7 558.9ZM775.9 551.6L777.6 554.5L774.3 554.5ZM785.3 567.7L788.0 566.2L788.0 569.3ZM837.22 617.88h3.1v1.8h-3.1ZM687.7 646.6L690.4 645.1L690.4 648.2ZM751.7 654.70l1.6 1.6l-1.6 1.6l-1.6 -1.6ZM846.3 613.89l1.6 1.6l-1.6 1.6l-1.6 -1.6ZM791.08 561.21h3.1v1.8h-3.1ZM723.4 578.0L726.1 576.4L726.1 579.6ZM720.0 676.7L717.3 678.3L717.3 675.1ZM684.91 631.01h1.8v3.1h-1.8ZM726.6 678.3L728.2 681.1L725.0 681.1ZM710.4 658.2L711.8 660.7L708.9 660.7ZM682.02 615.09h3.1v1.8h-3.1ZM785.3 546.85l1.6 1.6l-1.6 1.6l-1.6 -1.6ZM685.3 626.6L683.7 623.7L686.9 623.7ZM773.9 542.84l1.6 1.6l-1.6 1.6l-1.6 -1.6ZM707.8 667.68l1.6 1.6l-1.6 1.6l-1.6 -1.6ZM746.30 549.29h1.8v3.1h-1.8ZM683.86 585.56h1.8v3.1h-1.8ZM716.3 578.6L713.8 580.1L713.8 577.2ZM739.2 546.8L740.8 549.6L737.6 549.6ZM702.0 676.1L704.8 674.5L704.8 677.7ZM695.27 596.90h1.8v3.1h-1.8ZM683.4 641.8L681.8 639.1L685.0 639.1ZM699.7 668.1L698.1 665.3L701.4 665.3ZM786.3 557.9L784.9 555.4L787.8 555.4ZM827.12 575.42h3.1v1.8h-3.1ZM702.8 655.7L704.5 658.6L701.2 658.6ZM791.8 553.1L794.5 551.6L794.5 554.6ZM800.4 567.8L798.7 564.9L802.0 564.9ZM843.3 623.3L845.9 621.8L845.9 624.7ZM842.65 605.31h3.1v1.8h-3.1ZM698.40 589.98h1.8v3.1h-1.8ZM695.1 586.0L693.5 583.2L696.7 583.2ZM806.8 562.3L805.2 559.6L808.4 559.6ZM827.6 566.7L830.2 565.2L830.2 568.1ZM694.2 655.04l1.6 1.6l-1.6 1.6l-1.6 -1.6ZM758.28 537.09h1.8v3.1h-1.8ZM692.29 668.60h1.8v3.1h-1.8ZM795.7 577.7L798.3 576.2L798.3 579.1ZM812.9 556.3L815.5 554.9L815.5 557.8ZM738.09 540.00h3.1v1.8h-3.1ZM731.09 539.97h1.8v3.1h-1.8ZM781.5 539.5L784.0 538.0L784.0 541.0ZM685.2 652.3L686.8 655.0L683.7 655.0ZM689.8 677.9L691.4 680.8L688.2 680.8ZM712.4 679.5L709.7 681.0L709.7 677.9ZM836.8 558.1L834.2 559.6L834.2 556.6ZM839.3 573.7L840.9 576.5L837.7 576.5ZM747.2 539.8L748.7 542.5L745.6 542.5ZM726.9 555.5L725.4 552.8L728.4 552.8ZM683.4 672.7L685.0 675.5L681.8 675.5ZM844.5 579.5L846.0 582.1L843.0 582.1ZM789.2 533.29l1.6 1.6l-1.6 1.6l-1.6 -1.6ZM821.71 560.58h1.8v3.1h-1.8ZM802.3 556.2L800.7 553.4L803.9 553.4ZM838.7 567.6L837.2 564.9L840.2 564.9ZM688.4 576.85l1.6 1.6l-1.6 1.6l-1.6 -1.6ZM699.24 642.05h1.8v3.1h-1.8ZM697.6 574.3L699.2 577.1L695.9 577.1ZM837.1 599.9L839.9 598.3L839.9 601.5ZM847.6 597.1L849.2 599.9L845.9 599.9ZM684.3 667.9L682.7 665.1L685.9 665.1ZM771.2 534.7L772.7 537.3L769.7 537.3ZM792.4 544.9L794.9 543.5L794.9 546.4ZM742.65 533.38h3.1v1.8h-3.1ZM825.94 552.20h1.8v3.1h-1.8ZM703.59 579.04h1.8v3.1h-1.8ZM750.98 529.11h1.8v3.1h-1.8ZM797.1 534.90l1.6 1.6l-1.6 1.6l-1.6 -1.6ZM810.03 547.75h1.8v3.1h-1.8ZM754.06 544.68h1.8v3.1h-1.8ZM805.19 533.81h3.1v1.8h-3.1ZM761.5 525.2L758.8 526.7L758.8 523.6ZM743.4 523.2L744.9 525.8L741.9 525.8ZM847.1 592.2L845.6 589.6L848.6 589.6ZM819.0 548.1L821.7 546.6L821.7 549.7ZM790.79 525.57h1.8v3.1h-1.8ZM823.7 542.2L826.4 540.7L826.4 543.7ZM834.6 548.9L832.1 550.4L832.1 547.4ZM780.9 529.9L778.1 531.5L778.1 528.3ZM692.87 568.03h1.8v3.1h-1.8ZM816.3 583.4L813.7 584.9L813.7 581.9ZM706.99 586.49h1.8v3.1h-1.8ZM764.2 531.08l1.6 1.6l-1.6 1.6l-1.6 -1.6ZM782.3 520.0L783.8 522.8L780.7 522.8ZM772.2 524.6L769.5 526.1L769.5 523.0ZM846.33 567.55h1.8v3.1h-1.8ZM839.76 550.23h1.8v3.1h-1.8ZM790.06 515.69h1.8v3.1h-1.8ZM721.9 546.6L720.4 543.8L723.5 543.8ZM766.1 517.9L764.6 515.4L767.5 515.4ZM847.6 546.0L845.0 547.6L845.0 544.5ZM709.8 571.8L712.4 570.3L712.4 573.2ZM815.6 540.6L812.9 542.2L812.9 539.1ZM802.88 545.10h1.8v3.1h-1.8ZM735.68 529.95h3.1v1.8h-3.1ZM681.2 595.4L679.7 592.9L682.6 592.9ZM720.6 567.8L722.1 570.5L719.1 570.5ZM846.2 558.06l1.6 1.6l-1.6 1.6l-1.6 -1.6ZM680.9 645.9L682.5 648.7L679.3 648.7ZM837.3 543.9L835.7 541.2L838.8 541.2ZM813.36 527.27h1.8v3.1h-1.8ZM703.8 571.3L702.3 568.6L705.4 568.6ZM798.54 525.22h3.1v1.8h-3.1ZM717.7 557.9L720.3 556.5L720.3 559.4ZM711.54 549.50h1.8v3.1h-1.8ZM845.6 534.9L847.0 537.4L844.1 537.4ZM790.72 506.80h1.8v3.1h-1.8ZM809.5 519.1L806.7 520.7L806.7 517.5ZM684.9 568.9L686.3 571.4L683.4 571.4ZM731.7 521.11l1.6 1.6l-1.6 1.6l-1.6 -1.6ZM731.5 514.9L734.1 513.4L734.1 516.3ZM762.2 510.3L759.4 512.0L759.4 508.7ZM708.0 555.3L709.6 558.0L706.4 558.0ZM697.62 560.09h3.1v1.8h-3.1ZM727.6 535.2L726.0 532.4L729.3 532.4ZM712.6 561.3L714.1 563.9L711.1 563.9ZM700.9 553.3L698.2 554.8L698.2 551.7ZM726.4 506.00l1.6 1.6l-1.6 1.6l-1.6 -1.6ZM836.0 529.5L837.4 532.1L834.5 532.1ZM749.2 523.1L751.8 521.6L751.8 524.6ZM829.0 533.8L830.5 536.3L827.5 536.3ZM781.8 512.0L784.3 510.5L784.3 513.4ZM775.3 515.49l1.6 1.6l-1.6 1.6l-1.6 -1.6ZM691.4 560.8L688.8 562.3L688.8 559.3ZM722.6 528.0L721.1 525.4L724.1 525.4ZM737.6 510.3L736.0 507.6L739.1 507.6ZM717.8 536.9L716.2 534.1L719.4 534.1ZM772.7 507.15l1.6 1.6l-1.6 1.6l-1.6 -1.6ZM680.53 557.40h1.8v3.1h-1.8ZM680.6 580.8L679.0 578.0L682.2 578.0ZM721.7 502.4L720.2 499.8L723.2 499.8ZM688.3 554.2L686.8 551.6L689.7 551.6ZM719.4 517.9L717.8 515.1L721.0 515.1ZM821.7 520.40l1.6 1.6l-1.6 1.6l-1.6 -1.6ZM823.7 529.6L821.2 531.0L821.2 528.1ZM755.6 518.2L754.0 515.4L757.2 515.4ZM798.8 514.19l1.6 1.6l-1.6 1.6l-1.6 -1.6ZM747.7 514.70l1.6 1.6l-1.6 1.6l-1.6 -1.6ZM746.2 504.19l1.6 1.6l-1.6 1.6l-1.6 -1.6ZM691.1 541.8L688.4 543.4L688.4 540.2ZM715.79 506.35h1.8v3.1h-1.8ZM781.6 505.1L780.1 502.5L783.1 502.5ZM710.3 501.8L712.9 500.4L712.9 503.3ZM777.2 497.3L774.4 498.9L774.4 495.6ZM827.02 524.20h3.1v1.8h-3.1ZM749.40 495.87h1.8v3.1h-1.8ZM707.0 513.8L709.7 512.3L709.7 515.4ZM706.9 547.2L704.1 548.8L704.1 545.6ZM844.8 527.1L847.4 525.6L847.4 528.6ZM712.7 544.3L711.2 541.6L714.2 541.6ZM715.0 522.4L716.5 525.1L713.5 525.1ZM754.11 489.53h1.8v3.1h-1.8ZM844.64 517.43h1.8v3.1h-1.8ZM831.4 519.0L834.0 517.5L834.0 520.5ZM700.7 542.2L698.0 543.7L698.0 540.6ZM697.05 533.05h1.8v3.1h-1.8ZM680.87 543.20h1.8v3.1h-1.8ZM758.5 500.94l1.6 1.6l-1.6 1.6l-1.6 -1.6ZM730.8 499.5L732.3 502.2L729.2 502.2ZM767.2 497.8L768.8 500.5L765.7 500.5ZM708.6 532.47l1.6 1.6l-1.6 1.6l-1.6 -1.6ZM688.3 529.6L689.9 532.4L686.7 532.4ZM826.6 512.50l1.6 1.6l-1.6 1.6l-1.6 -1.6ZM787.8 496.7L789.3 499.3L786.3 499.3ZM701.40 502.46h3.1v1.8h-3.1ZM762.21 486.91h1.8v3.1h-1.8ZM722.35 488.59h1.8v3.1h-1.8ZM695.1 524.0L697.7 522.5L697.7 525.4ZM698.99 514.15h3.1v1.8h-3.1ZM695.8 497.6L693.2 499.0L693.2 496.1ZM708.3 522.8L705.6 524.3L705.6 521.3ZM818.1 515.0L815.4 516.6L815.4 513.4ZM819.31 505.26h3.1v1.8h-3.1ZM779.3 488.2L776.5 489.8L776.5 486.6ZM714.11 492.28h1.8v3.1h-1.8ZM835.9 510.13l1.6 1.6l-1.6 1.6l-1.6 -1.6ZM706.10 489.78h1.8v3.1h-1.8ZM806.9 509.3L809.4 507.8L809.4 510.7ZM837.8 524.0L840.6 522.4L840.6 525.6ZM834.4 501.78l1.6 1.6l-1.6 1.6l-1.6 -1.6ZM798.2 502.4L795.6 503.9L795.6 500.8ZM788.8 487.17l1.6 1.6l-1.6 1.6l-1.6 -1.6ZM737.9 496.91l1.6 1.6l-1.6 1.6l-1.6 -1.6ZM693.1 515.7L694.6 518.4L691.5 518.4ZM688.5 504.9L691.2 503.3L691.2 506.4ZM744.4 491.8L742.9 489.2L745.9 489.2ZM698.6 486.9L701.3 485.3L701.3 488.5ZM811.3 500.8L808.7 502.3L808.7 499.3ZM687.5 491.4L690.4 489.7L690.4 493.0ZM811.9 491.3L809.2 492.9L809.2 489.7ZM680.7 529.8L679.2 527.2L682.2 527.2ZM739.9 486.0L737.2 487.6L737.2 484.5ZM681.4 490.82l1.6 1.6l-1.6 1.6l-1.6 -1.6ZM826.7 497.7L825.1 494.9L828.3 494.9ZM732.2 489.18l1.6 1.6l-1.6 1.6l-1.6 -1.6ZM815.60 494.49h1.8v3.1h-1.8ZM805.1 495.2L802.4 496.7L802.4 493.7ZM831.8 490.9L830.2 488.1L833.5 488.1ZM796.6 489.26l1.6 1.6l-1.6 1.6l-1.6 -1.6ZM686.4 521.0L687.9 523.5L685.0 523.5ZM843.6 507.7L845.2 510.5L842.0 510.5ZM684.7 513.2L687.3 511.7L687.3 514.7ZM680.9 500.07l1.6 1.6l-1.6 1.6l-1.6 -1.6ZM844.3 496.9L841.8 498.4L841.8 495.5ZM682.4 534.5L683.9 537.1L680.9 537.1ZM837.90 486.95h3.1v1.8h-3.1ZM801.4 486.6L804.2 484.9L804.2 488.2ZM820.0 487.9L817.4 489.4L817.4 486.4ZM845.9 488.6L848.5 487.1L848.5 490.1ZM848.0 501.6L849.6 504.3L846.4 504.3Z" fill="#000" stroke="#000" stroke-width="0.95" stroke-linejoin="round"/>
<path d="M132.9 510.6C131.1 510.8 126.2 510.9 122 511.5C117.8 512.1 112.6 513 107.6 514.5C102.6 516 96.9 517.9 91.9 520.5C86.9 523.1 82 526.3 77.4 530.2C72.8 534.1 67.7 539.4 64.1 544C60.5 548.6 57.4 552.4 55.7 557.9C54 563.4 54.2 574 53.9 577.2L53.9 577.2C55 575.6 57.5 571.9 60.5 567.6C63.5 563.3 67.9 556.3 71.6 551.5C75.3 546.7 78.8 542.6 82.9 538.9C87 535.2 91.5 532.3 96.1 529.3C100.7 526.3 105.9 523.3 110.5 520.8C115.1 518.3 119.9 516.2 123.6 514.5C127.3 512.8 131.3 511.2 132.9 510.6Z" fill="#fff" stroke="#000" stroke-width="2.9" stroke-linejoin="round"/>
<path d="M110.2 513.8L113.6 519.2M92.9 520L98.8 527.6M76.7 530.8L84.1 537.8M63.3 545L71.9 551.1M55.2 560L62.9 564.1" fill="none" stroke="#000" stroke-width="2.9"/>
<path d="M121.9 619.4C124.3 619 128.1 618.9 130.5 619.8C132.9 620.7 135.5 623 136.6 625C137.7 627 137.6 629.8 137 631.9C136.4 634 135.2 636.2 133.1 637.9C131 639.6 127.4 640.9 124.5 642.2C121.6 643.5 118.6 645.3 115.9 645.7C113.2 646.1 110.2 645.9 108.1 644.8C106 643.6 104.2 640.9 103.4 638.8C102.6 636.6 102.5 634 103.4 631.9C104.3 629.8 106.9 627.5 109 625.9C111.1 624.2 113.8 623.1 115.9 622C118.1 620.9 119.5 619.8 121.9 619.4Z" fill="#000"/>
<path d="M273.4 496.8C272.2 497.3 269.6 498.4 266.2 499.7C262.8 501 257.5 502.5 253.2 504.7C248.9 506.9 244.6 509.4 240.3 512.6C236 515.8 231.2 520.3 227.4 524.1C223.6 527.9 220.7 531.1 217.3 535.6C213.9 540.1 210.1 546 207.2 551.4C204.3 556.8 201.3 565.1 200.1 567.9L200.1 567.9C202 566.2 207.2 562.2 211.6 557.9C216 553.6 222.3 546.3 226.6 542C230.9 537.7 233.7 535.2 237.4 532C241.1 528.8 244.8 525.6 248.9 522.6C253 519.6 258.1 516.5 261.9 514C265.7 511.5 269 509.3 271.9 507.6C274.8 505.9 277.9 504.6 279.1 504Z" fill="#fff" stroke="#000" stroke-width="2.9" stroke-linejoin="round"/>
<path d="M263.5 500.7L270 508.7M249.8 506.5L258 516.5M237.5 514.8L246.3 524.6M226.6 524.9L235.3 533.8M216.9 536.1L225 543.7M208.8 548.5L215.2 554.2" fill="none" stroke="#000" stroke-width="2.9"/>
<path d="M288.3 504.5C290.8 503.3 293.9 503.7 296.5 504.2C299.1 504.7 302.7 505.6 304.1 507.4C305.5 509.2 305.3 512.8 305.1 515C304.9 517.2 304.3 518.8 302.9 520.7C301.5 522.6 298.5 524.7 296.5 526.3C294.5 527.9 292.9 529.8 290.9 530.4C288.9 531 286.4 531 284.5 530.1C282.6 529.2 280.6 527 279.5 525.1C278.4 523.2 277.3 521.1 277.6 518.8C277.9 516.5 279.6 513.6 281.4 511.2C283.2 508.8 285.8 505.7 288.3 504.5Z" fill="#000"/>
<path d="M309.6 527C309.5 529.8 309.6 537.7 309 543.7C308.4 549.7 307.5 557.4 306.3 563.1C305.1 568.9 303.5 573.5 302 578.2C300.5 582.9 298.9 586.8 297.2 591.1C295.5 595.4 293.8 599.6 292 604C290.2 608.4 287.3 615 286.4 617.2L291.8 622C293.7 618.8 300.3 608 303 603C305.7 598 306.6 595.8 308 592C309.4 588.2 310.5 584.9 311.7 580.4C312.9 575.9 314.4 570.5 315 565.3C315.6 560.1 315.9 554.7 315.5 549.1C315.1 543.5 313.8 535.6 312.8 531.9C311.8 528.2 310.1 527.8 309.6 527Z" fill="#fff" stroke="#000" stroke-width="2.9" stroke-linejoin="round"/>
<path d="M308.3 550.5L315.6 551.1M305.6 566.2L314.6 568.2M301.2 580.6L310.7 584M296.5 592.9L305.8 597.3M291.5 605.1L299.1 609.8" fill="none" stroke="#000" stroke-width="2.9"/>
<ellipse cx="247.9" cy="580" rx="13.6" ry="10" transform="rotate(-55 247.9 580)" fill="#fff" stroke="#000" stroke-width="2.9"/>
<path d="M221.1 614.9C223.1 615.1 225.6 616.3 227 617.9C228.4 619.5 229.5 622.1 229.7 624.5C229.9 626.9 229.3 629.9 228 632.5C226.7 635.1 224.1 638.1 221.7 640.4C219.3 642.7 216.6 645.1 213.8 646.3C211.1 647.5 207.6 647.9 205.2 647.7C202.8 647.5 200.6 646.9 199.6 645C198.6 643.1 198.8 639.1 199.3 636.4C199.8 633.6 200.9 631 202.6 628.5C204.2 626 207.1 623.2 209.2 621.2C211.3 619.2 213.1 617.7 215.1 616.6C217.1 615.5 219.1 614.7 221.1 614.9Z" fill="#000"/>
<ellipse cx="301.2" cy="655.8" rx="21.5" ry="13.5" transform="rotate(-33 301.2 655.8)" fill="#fff" stroke="#000" stroke-width="2.9"/>
<clipPath id="c3"><rect x="348" y="485" width="165" height="195.5"/></clipPath><g clip-path="url(#c3)">
<path d="M368.5 491.9C371.2 490.9 375.3 490.9 378.4 491.3C381.5 491.8 385 492.8 387 494.6C389 496.4 390 499.4 390.3 501.9C390.6 504.4 390.4 507.3 389 509.8C387.6 512.3 384.2 515.1 381.7 517.1C379.2 519.1 376.6 520.7 373.8 521.7C371.1 522.7 367.9 523.5 365.2 523C362.5 522.5 359.6 520.9 357.9 519C356.2 517.1 355.2 514.2 355 511.8C354.8 509.4 355.5 506.9 356.6 504.5C357.8 502.1 359.9 499.3 361.9 497.2C363.9 495.1 365.8 492.9 368.5 491.9Z" fill="#000"/>
<path d="M433.2 490.3C430.6 491.3 422.8 493.7 417.4 496.5C412 499.3 406.1 503.1 400.8 507.2C395.5 511.3 390.2 516.1 385.8 521.4C381.4 526.7 377.5 532.9 374.2 538.8C370.9 544.7 367.9 552 365.9 557C363.9 562 362.9 566.8 362.3 568.7L373.4 571.2C374.4 569.1 376.8 563.3 379.2 558.7C381.6 554.1 384.4 548.8 387.5 543.8C390.6 538.8 393.6 533.5 397.5 528.8C401.4 524.1 406.3 519.4 410.7 515.5C415.1 511.6 419.7 508.1 424 505.6C428.3 503.1 434.4 501.4 436.5 500.6Z" fill="#fff" stroke="#000" stroke-width="2.9" stroke-linejoin="round"/>
<path d="M419.7 495.4L424.7 505.2M405.4 503.8L412.8 513.7M393.4 513.5L402.7 523M382.3 525.8L393.4 534.3M373.6 539.9L385.7 546.8M367.1 554L379.2 558.8" fill="none" stroke="#000" stroke-width="2.9"/>
<path d="M474.7 500.6C473.9 503.4 470.9 511.7 469.7 517.2C468.4 522.7 467.5 528.3 467.2 533.8C466.9 539.3 467.2 545.1 468 550.4C468.8 555.6 470.4 560.4 472.2 565.3C474 570.1 477.7 577.1 478.8 579.5L485.5 577C484.7 574.8 481.9 568.1 480.5 563.7C479.1 559.3 477.6 555.4 477.2 550.4C476.8 545.4 477.3 539.3 478 533.8C478.7 528.3 480.1 522.3 481.3 517.2C482.6 512.1 484.8 505.5 485.5 503.1Z" fill="#fff" stroke="#000" stroke-width="2.9" stroke-linejoin="round"/>
<path d="M471.2 511.5L482.3 513.3M468.6 522.7L479.8 523.7M467.2 534.1L478 534.2M467.4 545.5L477.1 544.8M469.4 556.8L478 555.4M473.1 567.7L481.1 565.6" fill="none" stroke="#000" stroke-width="2.9"/>
<path d="M454.5 545.9C457.2 545.2 460.2 545.3 462.4 545.9C464.6 546.5 466.6 547.7 467.7 549.2C468.8 550.8 469.3 553.2 469 555.2C468.7 557.2 467.3 559.4 465.7 561.1C464.1 562.9 461.5 564.5 459.1 565.7C456.7 566.9 453.7 568.2 451.2 568.4C448.7 568.6 445.8 568.2 443.9 567.1C442 566 440.4 563.7 439.9 561.8C439.3 559.9 439.6 557.8 440.6 555.8C441.6 553.8 443.6 551.5 445.9 549.9C448.2 548.2 451.8 546.6 454.5 545.9Z" fill="#000"/>
<ellipse cx="405.4" cy="553.9" rx="18.8" ry="20.2" transform="rotate(0 405.4 553.9)" fill="#fff" stroke="#000" stroke-width="2.8"/>
<path d="M392.7 551.3C392.9 550.9 393.3 549.4 393.8 548.5C394.2 547.6 394.8 546.7 395.4 545.9C396.1 545.2 396.8 544.5 397.6 543.8C398.4 543.2 399.2 542.7 400.1 542.3C401 541.9 402 541.6 403 541.4C403.9 541.2 404.9 541.1 405.9 541.2C406.9 541.2 407.9 541.4 408.8 541.6C409.7 541.9 410.7 542.3 411.5 542.8C412.4 543.2 413.2 543.8 414 544.5C414.7 545.2 415.4 545.9 416 546.7C416.6 547.6 417.1 548.5 417.5 549.4C417.9 550.3 418.1 551.3 418.3 552.3C418.5 553.3 418.6 554.4 418.6 555.4C418.5 556.4 418.2 557.9 418.1 558.5M398.1 551.7C398.2 551.4 398.6 550.8 399 550.4C399.3 550 399.7 549.6 400.1 549.3C400.5 548.9 401 548.6 401.4 548.4C401.9 548.2 402.4 547.9 402.9 547.8C403.4 547.6 403.9 547.5 404.5 547.5C405 547.4 405.5 547.4 406 547.4C406.6 547.5 407.1 547.6 407.6 547.7C408.1 547.8 408.6 548 409.1 548.3C409.5 548.5 410 548.8 410.4 549.1C410.8 549.4 411.2 549.7 411.6 550.1C412 550.5 412.3 550.9 412.6 551.4C412.8 551.8 413.1 552.3 413.3 552.8C413.5 553.3 413.6 553.8 413.7 554.3C413.8 554.8 413.8 555.6 413.9 555.9M403 568.6C402.8 568.6 402.1 568.4 401.7 568.3C401.3 568.2 400.9 568 400.5 567.9C400.1 567.7 399.7 567.5 399.3 567.3C398.9 567.1 398.5 566.9 398.1 566.7C397.8 566.4 397.4 566.2 397.1 565.9C396.7 565.6 396.4 565.3 396.1 565C395.7 564.7 395.4 564.3 395.1 564C394.9 563.7 394.6 563.3 394.3 562.9C394 562.6 393.8 562.2 393.6 561.8C393.3 561.4 393.1 561 392.9 560.6C392.7 560.1 392.6 559.7 392.4 559.3C392.3 558.8 392.1 558.4 392 557.9C391.9 557.5 391.8 557 391.7 556.6C391.6 556.1 391.6 555.4 391.5 555.2M402.9 565C402.7 565 402.4 564.9 402.1 564.8C401.9 564.7 401.6 564.6 401.4 564.5C401.1 564.4 400.9 564.2 400.7 564.1C400.4 564 400.2 563.8 400 563.7C399.8 563.5 399.6 563.3 399.4 563.2C399.1 563 398.9 562.8 398.8 562.6C398.6 562.4 398.4 562.2 398.2 562C398 561.8 397.8 561.6 397.7 561.3C397.5 561.1 397.4 560.9 397.2 560.7C397.1 560.4 396.9 560.2 396.8 559.9C396.7 559.7 396.6 559.4 396.5 559.2C396.4 558.9 396.3 558.6 396.2 558.4C396.1 558.1 396 557.8 395.9 557.6C395.9 557.3 395.8 556.9 395.8 556.7M400.8 557.5L388 558M402.2 554.3L396.5 547.3M404.9 561.4L405.4 574.1M408.7 556.6L423.2 553.4M408.4 559.1L413.8 561.7M406.5 553.8L409.4 547.3" fill="none" stroke="#000" stroke-width="2.4" stroke-linejoin="round" stroke-linecap="round"/>
<ellipse cx="404.8" cy="557.4" rx="3.9" ry="4.2" transform="rotate(0 404.8 557.4)" fill="#fff" stroke="#000" stroke-width="2.3"/>
<path d="M472.2 577.4C468.9 577.4 458.7 577 452.3 577.4C445.9 577.8 440.1 578.8 434 579.9C427.9 581 421.5 582.4 415.7 584C409.9 585.6 404.4 587.6 399.1 589.8C393.9 592 389.2 594.4 384.2 597.3C379.2 600.2 373 604.4 369.2 607.3C365.4 610.2 363.1 612.7 361.5 614.5C359.9 616.3 359.7 616.9 359.6 618C359.5 619.1 360.8 620.8 361 621.3L361 621.3C361.5 621.5 362.9 622.4 364 622.3C365.1 622.2 365.6 622.1 367.5 620.8C369.4 619.5 371.8 617.1 375.1 614.7C378.4 612.3 382.9 609 387.5 606.4C392.1 603.8 397.1 601.2 402.4 599C407.6 596.8 413.5 594.7 419 593.2C424.5 591.7 430.1 590.8 435.6 589.8C441.2 588.8 446.2 587.9 452.3 587.4C458.4 586.9 468.9 586.6 472.2 586.5Z" fill="#fff" stroke="#000" stroke-width="2.9" stroke-linejoin="round"/>
<path d="M467.1 577.3L467.4 586.7M449.2 577.6L450.7 587.6M430.3 580.6L432.9 590.3M411.7 585.2L415.4 594.2M395 591.6L399.8 600.1M379.4 600.3L384.9 607.9M365.9 610L372.2 616.9" fill="none" stroke="#000" stroke-width="2.9"/>
<ellipse cx="476" cy="611.3" rx="28.6" ry="21.6" transform="rotate(-38 476 611.3)" fill="#fff" stroke="#000" stroke-width="2.9"/>
<path d="M472 636.5C469.2 637.7 460 640.8 455 643.5C450 646.2 446.4 649.3 442 653C437.6 656.7 433.1 661 428.5 665.5C423.9 670 416.8 677.6 414.5 680" fill="none" stroke="#000" stroke-width="2.6" stroke-linejoin="round" stroke-linecap="round"/>
<path d="M511.5 629.3C507.3 630.5 493.1 634.6 486.3 636.6C479.5 638.6 475.1 639.4 470.7 641C466.3 642.6 463.6 643.9 459.9 646.4C456.1 648.9 452.3 652.7 448.2 656.1C444.1 659.5 439.7 663 435.5 666.9C431.3 670.8 424.9 677.5 422.8 679.6L433.6 679.6C435.6 678 441.2 673.2 445.3 669.8C449.4 666.4 453.8 662.4 458 659C462.2 655.6 466 652 470.7 649.3C475.4 646.6 479.5 645.1 486.3 643C493.1 640.9 507.3 637.7 511.5 636.6Z" fill="#fff" stroke="#000" stroke-width="2.8" stroke-linejoin="round"/>
<path d="M505.5 631L506.2 637.9M484.4 637.1L487.7 642.6M466.5 642.7L472.5 648.3M453.6 651.4L461.4 656.2M440.8 662.2L450.3 665.5M430.1 672.1L440.6 673.8" fill="none" stroke="#000" stroke-width="2.8"/>
<path d="M415.3 613.1C420 612.6 429 612.5 433.3 613.4C437.6 614.3 438.8 616 440.9 618.3C443 620.5 444.8 622.9 445.7 626.9C446.6 630.9 447.2 637.7 446.6 642.1C446 646.5 444.1 650.4 441.9 653.4C439.7 656.4 437.4 658.2 433.3 660.1C429.2 662 422.7 664.2 417.2 664.8C411.7 665.4 404.5 665.2 400.1 663.9C395.7 662.6 392.6 660.5 390.6 657.2C388.6 653.9 388.3 648.3 388.3 644C388.3 639.7 389.3 635.1 390.6 631.6C391.9 628.1 393.9 625.6 396.3 623.1C398.7 620.6 401.7 618.1 404.9 616.4C408.1 614.7 410.6 613.6 415.3 613.1Z" fill="#fff" stroke="#000" stroke-width="2.9" stroke-linejoin="round" stroke-linecap="round"/>
<path d="M398 649.1C397.6 648.3 396.3 646.1 395.8 644.5C395.4 642.9 395.2 641.2 395.3 639.5C395.5 637.9 395.9 636.2 396.5 634.7C397.2 633.2 398.2 631.6 399.4 630.3C400.5 629 402 627.8 403.5 626.9C405.1 625.9 406.9 625.1 408.7 624.6C410.5 624 412.5 623.7 414.4 623.6C416.4 623.5 418.4 623.7 420.2 624.1C422.1 624.5 424 625.2 425.6 626C427.3 626.9 428.8 628 430.1 629.2C431.4 630.4 432.5 631.8 433.4 633.3C434.2 634.8 434.8 636.4 435.1 638.1C435.4 639.7 435.4 641.4 435.1 643C434.8 644.6 433.7 647 433.4 647.8M392.2 634.6C392.3 634.3 392.6 633.2 392.9 632.5C393.2 631.8 393.5 631 393.9 630.4C394.3 629.7 394.7 629 395.1 628.4C395.6 627.7 396.1 627.1 396.6 626.5C397.1 625.9 397.6 625.3 398.2 624.7C398.8 624.2 399.4 623.7 400 623.2C400.6 622.7 401.3 622.2 402 621.8C402.6 621.3 403.3 620.9 404.1 620.5C404.8 620.2 405.5 619.8 406.3 619.5C407.1 619.2 407.8 618.9 408.6 618.7C409.4 618.5 410.2 618.3 411 618.1C411.9 618 412.7 617.8 413.5 617.7C414.3 617.7 415.2 617.6 416 617.6C416.8 617.6 418.1 617.7 418.5 617.7M421.8 653.6C421.7 653.6 421.4 653.8 421.2 653.9C421 654.1 420.8 654.2 420.6 654.3C420.4 654.4 420.3 654.5 420 654.6C419.8 654.7 419.6 654.7 419.4 654.8C419.2 654.9 419 655 418.8 655C418.6 655.1 418.4 655.2 418.2 655.2C418 655.3 417.8 655.3 417.6 655.4C417.3 655.4 417.1 655.5 416.9 655.5C416.7 655.5 416.5 655.5 416.3 655.6C416.1 655.6 415.8 655.6 415.6 655.6C415.4 655.6 415.2 655.6 415 655.6C414.8 655.6 414.5 655.6 414.3 655.6C414.1 655.5 413.9 655.5 413.7 655.5C413.5 655.5 413.1 655.4 413 655.4M429.4 656.7C429.3 656.8 428.7 657.2 428.4 657.5C428 657.8 427.6 658 427.2 658.2C426.9 658.5 426.5 658.7 426.1 658.9C425.7 659.1 425.3 659.3 424.8 659.5C424.4 659.7 424 659.9 423.6 660.1C423.2 660.2 422.7 660.4 422.3 660.5C421.9 660.6 421.4 660.8 421 660.9C420.6 661 420.1 661.1 419.7 661.2C419.2 661.3 418.8 661.3 418.3 661.4C417.9 661.5 417.4 661.5 416.9 661.5C416.5 661.6 416 661.6 415.6 661.6C415.1 661.6 414.7 661.6 414.2 661.6C413.7 661.6 413.3 661.5 412.8 661.5C412.4 661.4 411.7 661.3 411.5 661.3M425 646L438 658M426 624L431.5 632L445 626M404 642L389 642M405 646.5L398 662M412.5 649L413.5 664" fill="none" stroke="#000" stroke-width="2.5" stroke-linejoin="round" stroke-linecap="round"/>
<ellipse cx="415.3" cy="640.6" rx="10" ry="6.6" transform="rotate(-10 415.3 640.6)" fill="#fff" stroke="#000" stroke-width="2.6"/>
<ellipse cx="368.8" cy="660.8" rx="16.8" ry="9.2" transform="rotate(-35 368.8 660.8)" fill="#fff" stroke="#000" stroke-width="2.9"/>
</g>
<clipPath id="c4"><rect x="514" y="485" width="165" height="195.5"/></clipPath><g clip-path="url(#c4)">
<path d="M516 480C517 481.1 519.7 484.2 521.8 486.3C523.9 488.4 525.8 490.8 528.6 492.7C531.4 494.6 535.1 496.3 538.4 497.6C541.7 498.9 544.8 499.9 548.2 500.5C551.6 501.1 555.2 501.2 558.9 501C562.6 500.8 566.7 500.2 570.6 499.5C574.5 498.8 578.5 498.1 582.4 496.6C586.3 495.1 590.9 492.5 594.1 490.7C597.4 488.9 599.6 487.7 601.9 485.9C604.2 484.1 607 481 608 480L587 480C586.2 481.1 584.1 484.7 582.4 486.3C580.6 487.9 578.8 488.8 576.5 489.8C574.2 490.8 571.6 491.6 568.7 492.2C565.8 492.8 561.8 493.2 558.9 493.2C556 493.2 553.5 492.8 551.1 492.2C548.7 491.6 546.1 490.8 544.3 489.8C542.5 488.8 541.8 487.9 540.4 486.3C539 484.7 536.7 481.1 536 480Z" fill="#fff" stroke="#000" stroke-width="2.8" stroke-linejoin="round"/>
<path d="M533.5 487.3L530.1 491.2M550.1 492.7L549.6 499.5M567.2 492.7L567.7 500M580.4 488.8L583.3 494.6M591 484L597 489" fill="none" stroke="#000" stroke-width="2.8"/>
<ellipse cx="556" cy="520.5" rx="20.5" ry="14" transform="rotate(-30 556 520.5)" fill="#fff" stroke="#000" stroke-width="2.9"/>
<path d="M635.9 500.9C640.2 500.8 643.7 502.3 646.3 504.3C648.9 506.3 650.7 509.8 651.4 513C652.1 516.2 651.7 520 650.6 523.3C649.5 526.6 647.2 529.9 644.6 532.8C642 535.7 638.6 539 635.1 540.6C631.6 542.2 627.6 542.6 623.9 542.3C620.2 542 615.7 540.8 612.7 538.8C609.7 536.8 606.9 533.1 605.8 530.2C604.6 527.3 604.9 524.5 605.8 521.6C606.6 518.7 608.5 515.7 610.9 513C613.3 510.3 616.2 507.2 620.4 505.2C624.6 503.2 631.6 501 635.9 500.9Z" fill="#fff" stroke="#000" stroke-width="2.9" stroke-linejoin="round" stroke-linecap="round"/>
<path d="M624 511L631.5 510.5L636 506L642.5 514L646.5 517.5M613.5 518Q612.5 524 611 528.5L615.5 527M610 515.5Q613 510.5 618 509.5M622.5 514.5L623.5 517M629.5 513.5L628 516.5M623.5 530.5L622.5 533.5M616 536.2Q624 540.5 632.5 540Q638 539.5 641 538" fill="none" stroke="#000" stroke-width="2.7" stroke-linejoin="round" stroke-linecap="round"/>
<path d="M636 517L641 516.5L639 520L643.5 519.5M634.5 522L640.5 521.5L637 525.5L642 524.5L640 528.5M633.5 526.5L637.5 529.5L634.5 531.5M643 521L644.5 526.5M638 518.5L638.5 530" fill="none" stroke="#000" stroke-width="2.9" stroke-linejoin="round" stroke-linecap="round"/>
<path d="M631 541.5L640 538.5L641 543L634 544.5Z" fill="#000" stroke="#000" stroke-width="1" stroke-linejoin="round" stroke-linecap="round"/>
<path d="M527.8 564.5C530.1 562.7 536.8 556.6 541.9 553.7C547 550.8 552.7 548.8 558.5 547.1C564.3 545.5 571.3 544.4 576.7 543.8C582.1 543.2 587.7 543.1 591 543.3C594.3 543.5 595.3 544 596.5 544.8C597.7 545.6 598 547.6 598.3 548.2L598.3 548.2C597.7 548.8 596.7 551 594.5 551.8C592.3 552.6 589.4 552.3 585 552.9C580.6 553.5 574.2 554 568.4 555.4C562.6 556.8 556.1 559.1 550.2 561.2C544.3 563.3 536.5 567.2 532.8 567.8C529.1 568.3 528.6 565 527.8 564.5Z" fill="#fff" stroke="#000" stroke-width="2.9" stroke-linejoin="round"/>
<path d="M536.3 557.6L536.8 566.6M554.3 548.4L555.2 559.5M574.2 544.1L574.2 554.3M592.9 543.5L592.3 552.3" fill="none" stroke="#000" stroke-width="2.9"/>
<path d="M665.3 543C665 542.4 665 540.3 663.8 539.6C662.6 538.9 661.5 538.3 658.1 538.6C654.7 538.9 648.2 540 643.2 541.3C638.2 542.6 633.5 544.2 628.2 546.3C622.9 548.4 616.9 550.9 611.6 553.7C606.4 556.5 601.4 559.6 596.7 562.9C592 566.2 587.1 570.2 583.4 573.7C579.7 577.2 577.1 580.5 574.5 584C571.9 587.5 568.8 593 567.7 594.8L574.7 599.1C576.1 597.3 580 591.4 582.8 588.3C585.6 585.2 588.3 583.3 591.7 580.3C595.1 577.3 599.1 573.3 603.3 570.3C607.4 567.2 611.9 564.5 616.6 562C621.3 559.5 626.5 557.3 631.5 555.4C636.5 553.5 641.9 551.7 646.5 550.4C651.1 549.1 656.1 548.3 659 547.6C661.9 546.9 663 546.8 664 546C665 545.2 665.1 543.5 665.3 543Z" fill="#fff" stroke="#000" stroke-width="2.9" stroke-linejoin="round"/>
<path d="M658.2 538.6L658.8 547.6M644.1 541.1L645.9 550.6M629.2 545.9L632.4 555.1M614.9 552L619.2 560.7M601.4 559.7L606.8 567.8M589.7 568.2L596.5 576M579.2 578L586.5 584.7M572 587.6L579.2 592.8" fill="none" stroke="#000" stroke-width="2.9"/>
<path d="M598.3 595.6C599.4 594.5 601.4 591.3 605 589C608.6 586.7 614.4 584.4 619.9 582C625.4 579.6 631.8 577.3 638.2 574.5C644.6 571.7 651 568.5 658.1 565.3C665.2 562.1 677.2 557.1 681 555.5L681 584C675.5 585.9 656.9 592.3 648.1 595.6C639.3 598.9 634.8 601.3 628.2 603.9C621.6 606.5 612.6 610.6 608.3 611.4C604 612.2 603.5 609.3 602.5 608.9Z" fill="#fff" stroke="#000" stroke-width="2.9" stroke-linejoin="round"/>
<path d="M610 587L616.6 607.5M625.5 580L633.2 601.5M639 574.5L646.5 596M653.1 568L660.6 590.6M666.4 562L676.4 584.5" fill="none" stroke="#000" stroke-width="2.9"/>
<path d="M569.9 568.9C568.7 567.9 566.4 567.1 563.4 567.3C560.4 567.5 555.9 568.4 551.6 570C547.3 571.6 541.6 574.3 537.6 577C533.6 579.7 530.3 582.5 527.9 586.2C525.5 589.9 523.4 595 523 599.1C522.6 603.2 524.4 608 525.7 611C527.1 614 528.8 616.3 531.1 616.9C533.4 617.5 536.7 616.4 539.7 614.7C542.8 613 547.1 609.5 549.4 606.7C551.7 603.9 552.3 600.9 553.7 598C555.1 595.1 555.8 592.4 558 589.4C560.2 586.4 564.6 582.4 566.7 579.7C568.8 577 570 575 570.5 573.2C571 571.4 571.1 569.9 569.9 568.9Z" fill="#fff" stroke="#000" stroke-width="2.9" stroke-linejoin="round" stroke-linecap="round"/>
<path d="M573.6 608C577.8 607.8 581.5 608.8 584.8 610.2C588.1 611.7 591.1 613.9 593.4 616.7C595.7 619.5 597.6 623.3 598.6 627C599.6 630.7 600.1 635.5 599.5 639.1C598.9 642.7 597.4 646 595.2 648.6C593.1 651.2 590.1 653.2 586.6 654.6C583.1 656 578.5 657.1 574.5 657.2C570.5 657.3 566.3 656.8 562.4 655.4C558.5 654 554.1 651.5 551.2 648.6C548.3 645.7 546.4 641.7 545.2 638.2C544.1 634.8 543.6 631.2 544.3 627.9C545 624.6 546.9 621.1 549.5 618.4C552.1 615.7 555.8 613.2 559.8 611.5C563.8 609.8 569.4 608.2 573.6 608Z" fill="#fff" stroke="#000" stroke-width="2.9" stroke-linejoin="round" stroke-linecap="round"/>
<path d="M565.9 611.5L567.6 619.2L569.3 624.4L565.9 626.1M566.7 613.2C568.7 613.5 575.5 613.5 578.8 614.9C582.1 616.3 584.5 619.2 586.6 621.8C588.8 624.4 590.9 629 591.7 630.4M555.5 625.3C554.8 626.3 552.1 629.1 551.2 631.3C550.3 633.4 550.4 637.1 550.3 638.2M568.4 626.1C567.1 626.7 562.4 627.6 560.7 629.6C559 631.6 558.5 636.8 558.1 638.2M551.2 638.2L565 638.2M565.9 644.2L558.1 649.4M574.5 644.2L577.1 652.9M577.1 630.4L581.4 625.3M582.2 627L584.8 636.5M588.3 639.1L598.6 640.8M581.4 651.1L587.4 647.7M559.8 652.9C561.2 653.2 565.2 654.7 568.4 655C571.6 655.3 577.1 654.7 578.8 654.6" fill="none" stroke="#000" stroke-width="2.5" stroke-linejoin="round" stroke-linecap="round"/>
<ellipse cx="570.6" cy="638.2" rx="5.2" ry="5.2" transform="rotate(0 570.6 638.2)" fill="#fff" stroke="#000" stroke-width="2.5"/>
<path d="M641.9 624.2C645 624.3 647.7 625.5 650.1 627.2C652.5 629 655 632.2 656.1 634.7C657.2 637.2 657.2 639.6 656.8 642.1C656.4 644.6 655.4 647.4 653.8 649.6C652.2 651.9 650 654.2 647.1 655.6C644.2 657 640.1 657.8 636.7 657.8C633.3 657.8 629.5 657.1 626.9 655.6C624.3 654.1 622.2 651.4 621 648.9C619.8 646.4 619.4 643.5 619.8 640.7C620.2 638 621.3 634.8 623.2 632.4C625.1 630 628.3 627.9 631.4 626.5C634.5 625.1 638.8 624.1 641.9 624.2Z" fill="#000"/>
<path d="M681 655.4C675.8 655.4 658.6 654.8 649.8 655.4C641 656 634.6 657.3 628.2 658.7C621.8 660.1 617.7 661.8 611.6 663.7C605.5 665.6 599.2 667.5 591.7 670.3C584.2 673.1 572.1 678 566.8 680.3C561.5 682.6 561.1 683.4 560 684L565 696C568.3 694.4 578.9 689.2 585 686.5C591.1 683.8 596.6 681.5 601.6 679.5C606.6 677.5 609.9 676 614.9 674.5C619.9 673 625.7 671.3 631.5 670.3C637.3 669.3 641.5 669 649.8 668.7C658 668.4 675.8 668.7 681 668.7Z" fill="#fff" stroke="#000" stroke-width="2.9" stroke-linejoin="round"/>
<path d="M668.4 655.2L668.9 668.6M648.9 655.5L650.1 668.7M629.6 658.4L631.4 670.3M611.5 663.7L613.9 674.8M592.3 670.1L595.8 681.9" fill="none" stroke="#000" stroke-width="2.9"/>
</g>
<clipPath id="c5"><rect x="680" y="485" width="169.5" height="195.5"/></clipPath><g clip-path="url(#c5)">
<path d="M676 520.5C677 520.2 678.3 520.1 681.7 518.9C685.1 517.7 691.4 514.2 696.6 513.1C701.9 512 707.7 511.9 713.2 512.2C718.7 512.5 724.3 513.9 729.8 514.7C735.3 515.5 740.3 516.9 746.4 517.2C752.5 517.5 759.7 517.8 766.3 516.4C772.9 515 780.1 511 786.2 508.9C792.3 506.8 797.1 504.2 802.9 503.9C808.7 503.6 813.9 505.9 821.1 507.2C828.3 508.4 840.9 510.5 846 511.4C851.1 512.3 851 512.2 852 512.4L852 522.4C851 522.2 851.1 522.4 846 521.4C840.9 520.4 828.3 517.1 821.1 516.4C813.9 515.7 808.7 515.7 802.9 517.2C797.1 518.7 792.3 523.3 786.2 525.5C780.1 527.7 772.9 529.8 766.3 530.5C759.7 531.2 752.5 530.7 746.4 529.7C740.3 528.7 735.3 526.1 729.8 524.7C724.3 523.3 718.7 521.4 713.2 521.4C707.7 521.4 701.9 522.8 696.6 524.7C691.4 526.6 685.1 531.1 681.7 533C678.3 534.9 677 535.5 676 536Z" fill="#fff" stroke="#000" stroke-width="2.6" stroke-linejoin="round"/>
<path d="M676 525.7L676.7 525.4L677.4 525.1L678.2 524.7L678.9 524.4L679.7 524.1L680.6 523.7L681.5 523.2L682.5 522.8L683.5 522.3L684.6 521.8L685.9 521.3L687.2 520.7L688.6 520L690.1 519.3L691.7 518.7L693.3 518.1L694.9 517.5L696.5 516.9L698.2 516.5L699.8 516.1L701.4 515.8L703 515.6L704.7 515.4L706.3 515.3L708 515.2L709.7 515.2L711.4 515.3L713 515.4L714.7 515.6L716.4 515.7L718 516L719.7 516.2L721.3 516.5L722.9 516.8L724.6 517.1L726.2 517.5L727.9 517.9L729.5 518.3L731.1 518.6L732.8 519L734.4 519.4L736 519.7L737.6 520.1L739.2 520.4L740.9 520.7L742.5 521L744.1 521.2L745.8 521.4L747.5 521.6L749.3 521.7L751.1 521.8L752.9 521.8L754.8 521.9L756.7 521.9L758.6 521.9L760.5 521.8L762.4 521.6L764.3 521.4L766.2 521.2L768.1 520.8L770 520.4L771.9 519.8L773.8 519.2L775.7 518.5L777.6 517.8L779.5 517.1L781.3 516.3L783.1 515.6L784.9 514.9L786.7 514.2L788.4 513.6L790.1 512.9L791.7 512.2L793.2 511.5L794.8 510.8L796.3 510.1L797.9 509.5L799.5 509L801.1 508.6L802.8 508.4L804.5 508.2L806.2 508.2L807.9 508.3L809.5 508.4L811.3 508.6L813 508.9L814.8 509.2L816.6 509.6L818.5 509.9L820.5 510.2L822.5 510.5L824.8 510.9L827.2 511.3L829.6 511.7L832 512.1L834.4 512.5L836.7 512.9L838.9 513.3L840.8 513.6L842.5 514L844 514.2L845.3 514.5L846.4 514.7L847.4 514.9L848.3 515.1L849.1 515.2L849.8 515.4L850.6 515.5L851.3 515.6L852 515.7L852 515.7" fill="none" stroke="#000" stroke-width="2.21" stroke-linejoin="round"/>
<path d="M676 530.8L677.1 530.3L678.2 529.8L679.3 529.2L680.4 528.6L681.5 528L682.7 527.4L683.8 526.8L685 526.1L686.3 525.4L687.6 524.8L688.9 524.1L690.3 523.4L691.8 522.7L693.3 522L694.9 521.4L696.5 520.9L698.1 520.3L699.7 519.8L701.3 519.4L703 519.1L704.6 518.8L706.2 518.6L707.9 518.4L709.6 518.3L711.2 518.3L712.9 518.4L714.6 518.5L716.2 518.7L717.9 519L719.5 519.3L721.2 519.6L722.8 519.9L724.4 520.3L726.1 520.7L727.7 521.1L729.3 521.5L730.9 521.9L732.5 522.4L734.1 522.9L735.7 523.3L737.3 523.8L738.9 524.2L740.6 524.6L742.2 524.9L743.8 525.2L745.5 525.5L747.1 525.7L748.8 525.9L750.5 526.1L752.2 526.2L753.9 526.3L755.7 526.3L757.4 526.4L759.2 526.3L761 526.3L762.8 526.2L764.6 526L766.4 525.8L768.1 525.6L769.9 525.2L771.7 524.8L773.4 524.4L775.2 523.9L776.9 523.3L778.7 522.7L780.4 522.1L782.2 521.5L783.9 520.8L785.6 520.2L787.2 519.6L788.8 518.9L790.4 518.1L791.9 517.4L793.4 516.6L794.9 515.8L796.4 515.1L797.9 514.4L799.5 513.8L801 513.2L802.7 512.8L804.3 512.6L806 512.4L807.7 512.3L809.3 512.3L811 512.3L812.7 512.4L814.5 512.6L816.2 512.8L818 513L819.8 513.2L821.7 513.4L823.6 513.7L825.7 514L827.7 514.4L829.7 514.7L831.7 515.1L833.7 515.5L835.6 515.8L837.4 516.2L839.1 516.5L840.6 516.8L842.1 517.2L843.5 517.5L844.8 517.7L846 518L847.3 518.3L848.4 518.5L849.6 518.7L850.8 518.9L852 519.1L852 519.1" fill="none" stroke="#000" stroke-width="2.21" stroke-linejoin="round"/>
<path d="M698.2 512.8L699 523.9M714.9 512.3L715.7 521.5M730.6 514.8L731.4 525.2M747.3 517.2L747.9 529.9M767.3 516.2L768 530.3M786.2 508.9L787.1 525.2M802.9 503.9L803.8 517M821.8 507.3L822.6 516.6M839.3 510.3L840.1 520.1" fill="none" stroke="#000" stroke-width="2.6"/>
<ellipse cx="722.3" cy="558.7" rx="15.8" ry="8.7" transform="rotate(3 722.3 558.7)" fill="#fff" stroke="#000" stroke-width="2.9"/>
<path d="M676 591C676.7 590.8 676.5 591.1 680 590C683.5 588.9 691.5 585.9 697.2 584.6C703 583.4 708.4 584.1 714.5 582.5C720.6 580.9 727.4 577.6 733.9 574.9C740.4 572.2 747.2 568.6 753.3 566.3C759.4 564 764.2 563.3 770.5 560.9C776.8 558.5 787.6 553.2 791 551.7L792 566.5C788.8 568.3 778.8 574.4 772.7 577.1C766.6 579.8 761.5 580.2 755.4 582.5C749.3 584.8 742.5 588.8 736 591.1C729.5 593.4 723.1 594.9 716.6 596.5C710.1 598.1 703.3 598.6 697.2 600.8C691.1 602.9 683.5 607.7 680 609.4C676.5 611.1 676.7 610.7 676 611Z" fill="#fff" stroke="#000" stroke-width="2.6" stroke-linejoin="round"/>
<path d="M676 597.7L676.7 597.5L677.3 597.2L678 596.9L678.6 596.6L679.3 596.3L680 596L680.9 595.6L681.8 595.2L682.8 594.8L684 594.3L685.3 593.8L686.8 593.3L688.4 592.7L690.1 592.1L691.9 591.5L693.8 591L695.7 590.4L697.5 589.9L699.4 589.5L701.1 589.1L702.9 588.8L704.6 588.5L706.3 588.3L708 588.1L709.7 587.9L711.4 587.6L713.2 587.4L714.9 587.1L716.7 586.8L718.5 586.3L720.3 585.8L722.1 585.3L724 584.6L725.8 583.9L727.7 583.2L729.6 582.5L731.4 581.7L733.3 580.9L735.2 580.1L737 579.3L738.8 578.5L740.7 577.6L742.5 576.8L744.4 575.9L746.3 575.1L748.1 574.2L749.9 573.4L751.8 572.6L753.6 571.9L755.4 571.2L757.2 570.6L758.9 570.1L760.6 569.6L762.3 569.1L764 568.7L765.6 568.2L767.3 567.7L769 567.1L770.7 566.4L772.5 565.7L774.4 564.9L776.3 564L778.4 563L780.5 562L782.6 561L784.7 560L786.6 559L788.4 558.1L790 557.3L791.3 556.6L791.3 556.6" fill="none" stroke="#000" stroke-width="2.21" stroke-linejoin="round"/>
<path d="M676 604.3L677.2 604L678.3 603.5L679.4 602.9L680.6 602.4L681.7 601.8L682.8 601.2L684 600.6L685.3 599.9L686.6 599.3L688 598.7L689.4 598.1L691 597.4L692.6 596.8L694.3 596.2L696.1 595.7L697.9 595.2L699.7 594.7L701.5 594.3L703.3 593.9L705.1 593.6L706.8 593.2L708.6 592.9L710.3 592.7L712 592.4L713.7 592L715.5 591.7L717.2 591.4L718.9 591L720.7 590.6L722.4 590.2L724.2 589.7L726 589.2L727.8 588.6L729.5 588L731.3 587.3L733.1 586.7L734.9 585.9L736.6 585.2L738.4 584.4L740.1 583.7L741.8 582.9L743.6 582.1L745.3 581.3L747 580.4L748.8 579.6L750.5 578.9L752.3 578.1L754 577.4L755.8 576.8L757.5 576.2L759.3 575.6L761 575.1L762.7 574.7L764.4 574.2L766.1 573.7L767.8 573.2L769.5 572.6L771.1 572L772.8 571.3L774.5 570.5L776.2 569.7L778 568.8L779.8 567.9L781.6 566.9L783.5 566L785.3 565L787 564.1L788.7 563.2L790.2 562.3L791.7 561.6L791.7 561.6" fill="none" stroke="#000" stroke-width="2.21" stroke-linejoin="round"/>
<path d="M693.9 585.4L694.7 601.8M713.3 582.8L714.3 597M732.9 575.3L733.7 591.9M753.3 566.3L754.2 583M772.9 559.9L773.6 576.7" fill="none" stroke="#000" stroke-width="2.6"/>
<path d="M770 578.3L792 566.5L800 566L789 576L777 587Z" fill="#fff" stroke="#000" stroke-width="2.4" stroke-linejoin="round" stroke-linecap="round"/>
<path d="M777.5 582.3L790 572.6" fill="none" stroke="#000" stroke-width="2.2" stroke-linejoin="round" stroke-linecap="round"/>
<path d="M791.4 551L817 552.3L800 566L791.6 568Z" fill="#fff" stroke="#000" stroke-width="2.6" stroke-linejoin="round" stroke-linecap="round"/>
<path d="M791.5 556.9L812 557.4" fill="none" stroke="#000" stroke-width="2.6" stroke-linejoin="round" stroke-linecap="round"/>
<path d="M757 654.2C759.9 654.7 767.6 656.7 774.1 657.2C780.6 657.7 789.8 657.8 795.9 657.2C802 656.6 806 655.1 811 653.8C816 652.5 819.3 650.5 826.1 649.6C832.9 648.7 847.7 648.8 852 648.6L852 654.5C848 654.7 834.1 654.6 827.8 655.5C821.5 656.4 819.7 658.3 814.4 659.7C809.1 661.1 802.9 663 795.9 663.9C788.9 664.8 779.9 665.2 772.4 664.8C764.9 664.4 754.6 662 751 661.5Z" fill="#fff" stroke="#000" stroke-width="2.4" stroke-linejoin="round"/>
<path d="M772.4 657L772.4 664.8M795.9 657.2L795.9 663.9M826.1 649.6L827.8 655.5" fill="none" stroke="#000" stroke-width="2.4"/>
<path d="M745 636C748.7 634.8 760.3 631 767.4 628.6C774.5 626.2 780.8 624.1 787.5 621.9C794.2 619.7 801.8 616.9 807.7 615.2C813.6 613.5 818.3 611.9 822.8 611.8C827.3 611.7 829.6 612.5 834.5 614.4C839.4 616.3 849.1 621.6 852 623L852 637.5C848.8 636.9 839 633.8 833 634C827 634.2 822.2 636.8 816 638.5C809.8 640.2 802.7 642.6 796 644.5C789.3 646.4 783.3 647.9 776 650C768.7 652.1 756 655.8 752 657Z" fill="#fff" stroke="#000" stroke-width="2.6" stroke-linejoin="round"/>
<path d="M747.3 643L748.8 642.5L750.5 642L752.4 641.4L754.5 640.7L756.7 640L759 639.3L761.3 638.5L763.6 637.8L765.7 637.1L767.8 636.4L769.7 635.8L771.7 635.2L773.6 634.6L775.5 634L777.4 633.4L779.2 632.8L781.1 632.2L783 631.6L784.8 631L786.7 630.4L788.7 629.8L790.6 629.2L792.5 628.6L794.5 627.9L796.5 627.3L798.4 626.7L800.3 626.1L802.2 625.5L804 624.9L805.7 624.4L807.4 623.9L809.1 623.4L810.7 622.9L812.3 622.5L813.9 622L815.4 621.6L816.9 621.3L818.4 621L819.9 620.7L821.3 620.5L822.7 620.3L824.1 620.1L825.3 620L826.6 619.9L827.9 619.9L829.1 620L830.4 620.1L831.8 620.3L833.2 620.6L834.7 621L836.3 621.4L838.1 622.1L840 622.8L841.9 623.6L843.9 624.4L845.7 625.2L847.6 626L849.2 626.7L850.7 627.3L852 627.8L852 627.8" fill="none" stroke="#000" stroke-width="2.21" stroke-linejoin="round"/>
<path d="M749.7 650L751.2 649.5L752.9 649L754.7 648.5L756.6 647.9L758.5 647.3L760.5 646.7L762.4 646.1L764.4 645.5L766.3 644.9L768.2 644.3L770 643.7L771.8 643.2L773.6 642.6L775.3 642.1L777.1 641.6L778.9 641L780.6 640.5L782.4 640L784.2 639.5L786 638.9L787.8 638.4L789.6 637.9L791.4 637.3L793.2 636.8L795 636.2L796.8 635.7L798.6 635.2L800.3 634.6L802.1 634.1L803.8 633.6L805.5 633.1L807.1 632.6L808.8 632.1L810.4 631.6L812 631.1L813.6 630.7L815.2 630.3L816.7 629.9L818.3 629.5L819.8 629.1L821.4 628.7L822.8 628.4L824.3 628L825.8 627.7L827.2 627.5L828.7 627.3L830.2 627.2L831.7 627.2L833.3 627.3L834.9 627.5L836.6 627.8L838.3 628.3L840.1 628.8L841.9 629.3L843.7 629.9L845.5 630.5L847.3 631.1L848.9 631.7L850.5 632.2L852 632.7L852 632.7" fill="none" stroke="#000" stroke-width="2.21" stroke-linejoin="round"/>
<path d="M769 628.2L774.1 650.5M790.9 620.8L795.9 644.5M811 614.5L814.4 639M833.7 614.2L833.7 634" fill="none" stroke="#000" stroke-width="2.6"/>
<path d="M777.8 585.5C777 586.5 774.6 588.6 772.9 591.6C771.2 594.6 769.7 599.5 767.4 603.4C765.1 607.3 762.4 611 759 615.2C755.6 619.4 751.1 624.1 747.2 628.6C743.3 633.1 739.6 637.3 735.4 642.1C731.2 646.9 726.5 652.7 722 657.2C717.5 661.7 713.1 665.4 708.6 669C704.1 672.6 698.5 676.4 695.1 679C691.7 681.6 689.2 683.6 688 684.5L724 688C725.9 686 731.5 679.9 735.4 675.7C739.3 671.5 743.8 667 747.2 663C750.6 659 752.5 656.3 755.6 652C758.7 647.7 762.6 642 766 637C769.4 632 773.2 626.1 776 622C778.8 617.9 780.3 615.4 782.6 612.1C784.9 608.8 787.2 605.4 789.8 602.4C792.4 599.4 796.9 595.4 798.3 594Z" fill="#fff" stroke="#000" stroke-width="2.6" stroke-linejoin="round"/>
<path d="M788 589.8L787.4 590.4L786.8 591L786 591.7L785.3 592.4L784.6 593.2L783.8 594L783.1 594.8L782.3 595.7L781.6 596.6L780.9 597.5L780.2 598.5L779.6 599.6L778.9 600.7L778.3 601.8L777.6 603L777 604.2L776.3 605.3L775.6 606.5L775 607.7L774.2 608.8L773.5 610L772.8 611.1L772 612.3L771.3 613.4L770.5 614.5L769.7 615.7L768.9 616.8L768.1 618L767.2 619.1L766.4 620.3L765.5 621.5L764.6 622.7L763.6 623.9L762.6 625.2L761.7 626.4L760.7 627.6L759.7 628.9L758.7 630.1L757.7 631.3L756.8 632.6L755.8 633.8L754.8 635L753.9 636.2L752.9 637.4L752 638.6L751 639.9L750 641.1L749.1 642.3L748.1 643.6L747.1 644.8L746.1 646.1L745 647.4L744 648.7L742.9 650L741.8 651.4L740.8 652.7L739.7 654L738.6 655.3L737.5 656.6L736.5 657.8L735.4 659L734.3 660.1L733.2 661.3L732.1 662.4L731 663.5L729.9 664.6L728.8 665.6L727.7 666.7L726.5 667.7L725.4 668.7L724.3 669.8L723.1 670.8L721.9 671.8L720.7 672.9L719.5 673.9L718.4 674.9L717.2 675.8L716.1 676.8L715.1 677.7L714.1 678.6L713.1 679.5L712.2 680.3L711.3 681.1L710.5 682L709.6 682.7L708.8 683.5L708.1 684.2L707.3 684.9L706.7 685.6L706 686.2L706 686.2" fill="none" stroke="#000" stroke-width="2.21" stroke-linejoin="round"/>
<path d="M770.5 596.7L789.8 602.4M762.5 610.7L781.2 614.1M752.1 623.1L773.3 626.1M737.8 639.4L762.6 642.1M723.6 655.6L751.4 657.7M707.4 669.9L738.7 672.2M694.4 679.5L728.9 682.7" fill="none" stroke="#000" stroke-width="2.6"/>
<path d="M854 536.8C852.8 537.2 849.9 538.2 846.6 539.1C843.4 540 838.5 540.7 834.5 542.1C830.5 543.5 826 545.5 822.4 547.5C818.8 549.5 815.8 551.8 812.8 554.1C809.8 556.4 807.1 558.8 804.3 561.4C801.5 564 798.9 567 795.9 569.8C792.9 572.6 789.2 575.7 786.2 578.3C783.2 580.9 780 583.3 777.8 585.5C775.6 587.7 774.3 589.2 772.9 591.6C771.5 594 769.9 598.6 769.3 600L786 607C786.6 606.2 787.8 604.6 789.8 602.4C791.8 600.2 795.3 597 798.3 594C801.3 591 804.7 587.3 807.9 584.3C811.1 581.3 814.4 578.7 817.6 575.9C820.8 573.1 824.1 570 827.3 567.4C830.5 564.8 833.7 562.4 836.9 560.2C840.1 558 843.8 555.9 846.6 554.1C849.5 552.3 852.8 550.3 854 549.5Z" fill="#fff" stroke="#000" stroke-width="2.6" stroke-linejoin="round"/>
<path d="M854 541L853.5 541.3L852.9 541.5L852.2 541.8L851.5 542.1L850.8 542.5L850 542.8L849.2 543.1L848.3 543.5L847.4 543.8L846.5 544.1L845.6 544.5L844.6 544.8L843.6 545.1L842.5 545.5L841.4 545.8L840.3 546.1L839.2 546.5L838.1 546.9L837 547.3L835.9 547.7L834.9 548.2L833.8 548.6L832.7 549.1L831.6 549.7L830.6 550.2L829.5 550.8L828.4 551.3L827.4 551.9L826.4 552.5L825.4 553L824.5 553.6L823.6 554.2L822.7 554.8L821.8 555.4L820.9 556.1L820.1 556.7L819.2 557.4L818.4 558L817.5 558.7L816.7 559.3L815.9 560L815.1 560.6L814.3 561.3L813.5 562L812.7 562.7L811.9 563.3L811.2 564L810.4 564.7L809.6 565.4L808.8 566.2L808 566.9L807.3 567.6L806.5 568.4L805.7 569.1L804.9 569.9L804.2 570.6L803.4 571.4L802.6 572.2L801.8 572.9L800.9 573.7L800.1 574.5L799.2 575.2L798.4 576L797.5 576.8L796.6 577.6L795.7 578.4L794.8 579.1L794 579.9L793.1 580.7L792.3 581.4L791.5 582.1L790.7 582.9L789.9 583.6L789.1 584.3L788.3 585L787.5 585.7L786.7 586.3L786 587L785.3 587.7L784.6 588.3L784 589L783.4 589.6L782.8 590.2L782.3 590.8L781.7 591.4L781.2 592L780.7 592.6L780.2 593.2L779.7 593.8L779.2 594.5L778.7 595.2L778.2 596L777.7 596.9L777.3 597.7L776.8 598.6L776.3 599.5L775.9 600.3L775.5 601.1L775.2 601.8L774.9 602.3L774.9 602.3" fill="none" stroke="#000" stroke-width="2.21" stroke-linejoin="round"/>
<path d="M854 545.3L853.4 545.6L852.7 546L852 546.4L851.2 546.8L850.5 547.2L849.7 547.6L848.9 548L848.1 548.4L847.3 548.8L846.5 549.2L845.6 549.6L844.7 550L843.8 550.4L842.9 550.8L842 551.2L841.1 551.6L840.1 552L839.2 552.4L838.3 552.9L837.4 553.3L836.5 553.8L835.5 554.3L834.6 554.8L833.7 555.3L832.8 555.8L831.9 556.4L831 556.9L830.2 557.5L829.3 558L828.5 558.6L827.6 559.1L826.8 559.7L826 560.3L825.2 560.9L824.4 561.5L823.7 562.1L822.9 562.7L822.1 563.3L821.4 563.9L820.6 564.5L819.9 565.1L819.1 565.8L818.4 566.4L817.7 567L817 567.7L816.2 568.3L815.5 569L814.8 569.6L814.1 570.3L813.3 570.9L812.6 571.6L811.9 572.2L811.2 572.9L810.4 573.6L809.7 574.2L809 574.9L808.2 575.6L807.5 576.2L806.7 576.9L806 577.6L805.2 578.3L804.5 578.9L803.7 579.6L802.9 580.3L802.2 581L801.4 581.7L800.6 582.4L799.9 583.1L799.1 583.8L798.4 584.5L797.7 585.2L797 585.9L796.3 586.6L795.5 587.2L794.8 587.9L794.1 588.6L793.5 589.2L792.8 589.9L792.1 590.5L791.5 591.2L790.8 591.8L790.2 592.4L789.6 593L789 593.7L788.4 594.3L787.8 594.9L787.3 595.5L786.7 596.1L786.1 596.7L785.6 597.4L785 598.1L784.4 598.8L783.9 599.5L783.3 600.3L782.8 601.1L782.3 601.8L781.8 602.6L781.3 603.3L780.9 604L780.4 604.7L780.4 604.7" fill="none" stroke="#000" stroke-width="2.21" stroke-linejoin="round"/>
<path d="M845.6 539.3L847.9 553.3M834 542.3L839.5 558.5M823 547.2L831.5 564.1M813.1 553.9L823.9 570.3M804 561.7L816.5 576.8M795.5 570.2L809 583.3M786.4 578.1L802 590.2M777.4 585.9L795.1 597.2M771.3 594.9L788.8 603.5" fill="none" stroke="#000" stroke-width="2.6"/>
</g>
<defs><filter id="bl" x="-50%" y="-50%" width="200%" height="200%"><feGaussianBlur stdDeviation="2.2"/></filter></defs>
<clipPath id="c6"><rect x="851" y="486" width="159" height="194.5"/></clipPath><g clip-path="url(#c6)">
<path d="M852 487L862 487L852 497Z M963 503L972 487L980 490L968 508Z M986 520L1010 532L1010 548L988 530Z M921 521L930 519L928 530L920 532ZM905 560L913 556L908 566Z M852 572L872 571L868 576L852 577Z M896 632L905 630L906 645L899 662L894 662Z M908 634L924 632L912 642ZM928 612L934 608L934 628L927 632Z M1004 624L1010 622L1002 640Z M975 642L990 645L986 650Z M940 664L952 664L952 676Z M852 620L858 616L856 626Z" fill="#a4a4a4" filter="url(#bl)"/>
<path d="M910.3 486.5L901.1 511.4L891.2 529.7L877.9 549.6M851.3 522.2L891.2 529.7M901.1 511.4L921 519.7L962.6 507.2L970.9 486.5M962.6 507.2L984.1 518L1009.9 503.1M984.1 518L1009.9 530.5M921 519.7L918.6 533.8L960.9 550.4L984.1 518M851.3 549.6L877.9 549.6L887.8 557L904.4 563.7L914.4 554.6L918.6 533.8M914.4 554.6L937.6 574.5M887.8 557L872.9 574.5L851.3 575.3M960.9 550.4L962.6 575.3L998.2 572L1009.9 553.7M998.2 572L1009.9 578.6M872.9 574.5L877.1 584L881.2 596.5L904.4 594.8L904.4 563.7M881.2 596.5L872.9 603.1L851.3 614.7M872.9 603.1L875.4 633.8L851.3 641.3M904.4 594.8L919.4 601.4L931.8 605.6M937.6 574.5L936.8 584L934.3 600.6L931.8 605.6L926 633M931.8 605.6L950.9 590.6L955.9 584L962.6 575.3M950.9 590.6L971.7 612.2L990.8 599.8L1009.9 584M990.8 599.8L1009 619.7L989.1 645.4M971.7 612.2L955.9 634.6M919.4 601.4L905.3 628.8L875.4 633.8M905.3 628.8L906.1 644.6L926 633M989.1 645.4L1009.9 661.2L980.8 671.2L989.1 645.4M980.8 671.2L979.2 680.3M967.5 641.3L952.6 663.7L980.8 671.2M952.6 663.7L921.9 664.5L906.1 644.6L896.1 663.7L851.3 663.7M952.6 663.7L954.3 680.3M921.9 664.5L918.6 680.3M896.1 663.7L889.5 680.3M896.1 663.7L905.3 680.3M926 633C929.6 633.1 940.7 632.5 947.6 633.8C954.5 635 960.6 638.6 967.5 640.5C974.4 642.4 985.5 644.6 989.1 645.4" fill="none" stroke="#000" stroke-width="2.8" stroke-linejoin="round" stroke-linecap="round"/>
<path d="M937.6 574.5L960.9 550.4" fill="none" stroke="#000" stroke-width="3.6" stroke-linejoin="round" stroke-linecap="round"/>
</g>
</g><!--endpanels-->
<g class="g">
<rect x="14.6" y="11.5" width="1000" height="669.6" fill="none" stroke-width="2.3"/>
<line x1="14" y1="65.6" x2="851" y2="65.6" stroke-width="3.8"/>
<line x1="14" y1="148.3" x2="681" y2="148.3" stroke-width="3.6"/>
<line x1="14" y1="205.9" x2="515" y2="205.9" stroke-width="3.6"/>
<line x1="14" y1="260.7" x2="515" y2="260.7" stroke-width="3.6"/>
<line x1="14" y1="484.6" x2="1010" y2="484.6" stroke-width="3.6"/>
<line x1="178.2" y1="259" x2="178.2" y2="681" stroke-width="3.6"/>
<line x1="347.4" y1="204" x2="347.4" y2="681" stroke-width="3.6"/>
<line x1="513.7" y1="147" x2="513.7" y2="681" stroke-width="3.6"/>
<line x1="679.4" y1="64" x2="679.4" y2="681" stroke-width="3.6"/>
<line x1="849.6" y1="111" x2="849.6" y2="681" stroke-width="3.4"/>
<line x1="850.2" y1="13" x2="850.2" y2="111" stroke-width="5"/>
</g>
<g id="txt">
<text id="t0" x="233.50" y="45.40" textLength="404.70" lengthAdjust="spacing">Depositional texture recognizable</text>
<text id="t1" x="156.90" y="100.10" textLength="381.90" lengthAdjust="spacing">Original components not bound</text>
<text id="t2" x="189.50" y="124.80" textLength="319.40" lengthAdjust="spacing">together during deposition</text>
<text id="t3" x="181.00" y="172.10" textLength="166.90" lengthAdjust="spacing">Contains mud</text>
<text id="t4" x="65.70" y="195.70" textLength="396.80" lengthAdjust="spacing">(clay and fine silt-size carbonate)</text>
<text id="t5" x="88.75" y="241.20" textLength="183.95" lengthAdjust="spacing">Mud-supported</text>
<text id="t6" x="393.25" y="227.20" textLength="72.65" lengthAdjust="spacing">Grain-</text>
<text id="t7" x="368.50" y="251.60" textLength="122.20" lengthAdjust="spacing">supported</text>
<text id="t8" x="32.20" y="286.40" textLength="116.90" lengthAdjust="spacing">Less than</text>
<text id="t9" x="26.25" y="310.80" textLength="131.25" lengthAdjust="spacing">10% grains</text>
<text id="t10" x="200.60" y="286.40" textLength="118.65" lengthAdjust="spacing">More than</text>
<text id="t11" x="195.10" y="310.80" textLength="131.30" lengthAdjust="spacing">10% grains</text>
<text id="t12" x="527.90" y="173.80" textLength="130.60" lengthAdjust="spacing">Lacks mud</text>
<text id="t13" x="523.30" y="198.10" textLength="140.20" lengthAdjust="spacing">and is grain</text>
<text id="t14" x="532.70" y="222.00" textLength="121.60" lengthAdjust="spacing">supported</text>
<text id="t15" x="714.80" y="92.20" textLength="93.90" lengthAdjust="spacing">Original</text>
<text id="t16" x="687.20" y="115.80" textLength="149.90" lengthAdjust="spacing">components</text>
<text id="t17" x="693.50" y="139.90" textLength="140.10" lengthAdjust="spacing">were bound</text>
<text id="t18" x="712.60" y="164.00" textLength="98.90" lengthAdjust="spacing">together</text>
<text id="t19" x="860.00" y="39.00" textLength="150.30" lengthAdjust="spacing">Depositional</text>
<text id="t20" x="872.50" y="62.80" textLength="125.50" lengthAdjust="spacing">texture not</text>
<text id="t21" x="857.90" y="86.80" textLength="153.30" lengthAdjust="spacing">recognizable</text>
<text id="t22" x="35.60" y="472.40" textLength="117.80" lengthAdjust="spacing">Mudstone</text>
<text id="t23" x="189.90" y="472.40" textLength="145.20" lengthAdjust="spacing">Wackestone</text>
<text id="t24" x="363.20" y="472.40" textLength="125.20" lengthAdjust="spacing">Packstone</text>
<text id="t25" x="528.40" y="472.40" textLength="131.30" lengthAdjust="spacing">Grainstone</text>
<text id="t26" x="689.90" y="472.40" textLength="145.90" lengthAdjust="spacing">Boundstone</text>
<text id="t27" x="873.10" y="472.40" textLength="128.60" lengthAdjust="spacing">Crystalline</text>
</g>
</svg>
</body></html>
